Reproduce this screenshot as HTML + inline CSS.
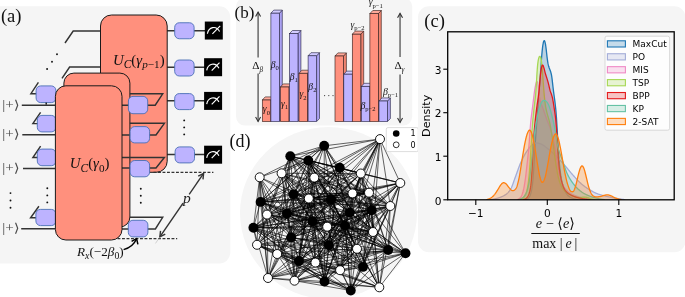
<!DOCTYPE html>
<html><head><meta charset="utf-8"><title>QAOA figure</title>
<style>
html,body{margin:0;padding:0;background:#fff;}
body{width:685px;height:297px;overflow:hidden;}
svg{display:block;}
</style></head><body>
<svg width="685" height="297" viewBox="0 0 685 297">
<rect x="0" y="0" width="685" height="297" fill="#ffffff"/>
<g id="panel-a">
<rect x="-12" y="6.3" width="242.3" height="257.1" rx="11" ry="11" fill="#f5f5f5"/>
<path d="M65.00,43.00 L73.20,31.00 L101.00,31.00" fill="none" stroke="#333333" stroke-width="1.45" />
<path d="M62.00,78.40 L69.60,67.00 L101.00,67.00" fill="none" stroke="#333333" stroke-width="1.45" />
<circle cx="57" cy="54.3" r="0.95" fill="#111"/>
<circle cx="52" cy="61.8" r="0.95" fill="#111"/>
<circle cx="47.1" cy="69.0" r="0.95" fill="#111"/>
<path d="M167.00,30.65 L205.00,30.65" fill="none" stroke="#333333" stroke-width="1.45" />
<path d="M167.00,67.30 L205.00,67.30" fill="none" stroke="#333333" stroke-width="1.45" />
<path d="M167.00,100.80 L205.00,100.80" fill="none" stroke="#333333" stroke-width="1.45" />
<path d="M167.00,154.40 L205.00,154.40" fill="none" stroke="#333333" stroke-width="1.45" />
<rect x="100.50" y="15.00" width="66.70" height="157.30" rx="11" ry="11" fill="#ff907d" stroke="#1a1a1a" stroke-width="1"/>
<rect x="174.70" y="22.75" width="19.40" height="16.00" rx="4.6" ry="4.6" fill="#bdb3ff" stroke="#4a6fb5" stroke-width="0.9"/>
<rect x="204.80" y="21.55" width="18.00" height="18.00" fill="#000"/>
<path d="M207.40,33.75 C208.60,26.95 216.00,24.95 219.60,31.55" fill="none" stroke="#fff" stroke-width="1.15"/>
<path d="M212.40,33.95 L220.20,25.95" fill="none" stroke="#fff" stroke-width="1.15"/>
<rect x="174.70" y="60.00" width="19.40" height="16.00" rx="4.6" ry="4.6" fill="#bdb3ff" stroke="#4a6fb5" stroke-width="0.9"/>
<rect x="204.10" y="58.20" width="18.00" height="18.00" fill="#000"/>
<path d="M206.70,70.40 C207.90,63.60 215.30,61.60 218.90,68.20" fill="none" stroke="#fff" stroke-width="1.15"/>
<path d="M211.70,70.60 L219.50,62.60" fill="none" stroke="#fff" stroke-width="1.15"/>
<rect x="174.70" y="93.60" width="19.40" height="16.00" rx="4.6" ry="4.6" fill="#bdb3ff" stroke="#4a6fb5" stroke-width="0.9"/>
<rect x="204.10" y="91.90" width="18.00" height="18.00" fill="#000"/>
<path d="M206.70,104.10 C207.90,97.30 215.30,95.30 218.90,101.90" fill="none" stroke="#fff" stroke-width="1.15"/>
<path d="M211.70,104.30 L219.50,96.30" fill="none" stroke="#fff" stroke-width="1.15"/>
<rect x="175.10" y="146.90" width="19.40" height="16.00" rx="4.6" ry="4.6" fill="#bdb3ff" stroke="#4a6fb5" stroke-width="0.9"/>
<rect x="204.10" y="145.70" width="18.00" height="18.00" fill="#000"/>
<path d="M206.70,157.90 C207.90,151.10 215.30,149.10 218.90,155.70" fill="none" stroke="#fff" stroke-width="1.15"/>
<path d="M211.70,158.10 L219.50,150.10" fill="none" stroke="#fff" stroke-width="1.15"/>
<circle cx="184.2" cy="120.4" r="0.95" fill="#111"/>
<circle cx="184.2" cy="127.4" r="0.95" fill="#111"/>
<circle cx="184.2" cy="134.4" r="0.95" fill="#111"/>
<path d="M153.50,172.30 L213.40,172.30" fill="none" stroke="#333" stroke-width="1.3" stroke-dasharray="2.9 1.6"/>
<path d="M117.50,238.60 L177.20,238.60" fill="none" stroke="#333" stroke-width="1.3" stroke-dasharray="2.9 1.6"/>
<rect x="63.90" y="73.10" width="66.00" height="153.90" rx="10" ry="10" fill="#ff907d" stroke="#1a1a1a" stroke-width="1"/>
<path d="M129.90,93.80 L162.70,93.80 L155.20,105.20 L121.90,105.20" fill="none" stroke="#333333" stroke-width="1.45" />
<path d="M129.90,123.30 L164.40,123.30 L156.00,135.00 L121.90,135.00" fill="none" stroke="#333333" stroke-width="1.45" />
<path d="M121.90,157.50 L164.40,157.50 L156.00,168.00 L121.90,168.00" fill="none" stroke="#333333" stroke-width="1.45" />
<path d="M129.90,217.30 L162.70,217.30 L155.40,229.00 L121.90,229.00" fill="none" stroke="#333333" stroke-width="1.45" />
<path d="M38.40,82.40 L30.90,93.70 L37.10,93.70" fill="none" stroke="#333333" stroke-width="1.45" />
<path d="M40.60,112.30 L32.90,123.60 L38.30,123.60" fill="none" stroke="#333333" stroke-width="1.45" />
<path d="M40.60,146.10 L32.90,157.50 L38.30,157.50" fill="none" stroke="#333333" stroke-width="1.45" />
<path d="M38.90,206.30 L30.60,217.70 L36.90,217.70" fill="none" stroke="#333333" stroke-width="1.45" />
<rect x="36.10" y="85.90" width="19.80" height="16.70" rx="4.6" ry="4.6" fill="#bdb3ff" stroke="#4a6fb5" stroke-width="0.9"/>
<rect x="37.30" y="115.40" width="18.60" height="16.50" rx="4.6" ry="4.6" fill="#bdb3ff" stroke="#4a6fb5" stroke-width="0.9"/>
<rect x="37.30" y="149.10" width="18.60" height="16.60" rx="4.6" ry="4.6" fill="#bdb3ff" stroke="#4a6fb5" stroke-width="0.9"/>
<rect x="35.90" y="209.40" width="20.00" height="16.20" rx="4.6" ry="4.6" fill="#bdb3ff" stroke="#4a6fb5" stroke-width="0.9"/>
<rect x="55.40" y="85.80" width="66.60" height="154.20" rx="10.5" ry="10.5" fill="#ff907d" stroke="#1a1a1a" stroke-width="1"/>
<rect x="128.40" y="96.40" width="19.30" height="17.30" rx="4.6" ry="4.6" fill="#bdb3ff" stroke="#4a6fb5" stroke-width="0.9"/>
<rect x="130.10" y="126.60" width="19.50" height="16.30" rx="4.6" ry="4.6" fill="#bdb3ff" stroke="#4a6fb5" stroke-width="0.9"/>
<rect x="130.10" y="160.50" width="19.50" height="16.30" rx="4.6" ry="4.6" fill="#bdb3ff" stroke="#4a6fb5" stroke-width="0.9"/>
<rect x="128.30" y="220.30" width="19.60" height="16.60" rx="4.6" ry="4.6" fill="#bdb3ff" stroke="#4a6fb5" stroke-width="0.9"/>
<circle cx="140.8" cy="188.8" r="0.95" fill="#111"/>
<circle cx="140.8" cy="195.8" r="0.95" fill="#111"/>
<circle cx="140.8" cy="202.8" r="0.95" fill="#111"/>
<path d="M21.80,105.20 L55.40,105.20" fill="none" stroke="#333333" stroke-width="1.45" />
<text x="2.2" y="108.80" font-family='"Liberation Serif", "DejaVu Serif", serif' font-size="12.5" fill="#4a4a4a" textLength="17.5" lengthAdjust="spacingAndGlyphs">|+⟩</text>
<path d="M22.30,134.70 L55.40,134.70" fill="none" stroke="#333333" stroke-width="1.45" />
<text x="2.2" y="138.30" font-family='"Liberation Serif", "DejaVu Serif", serif' font-size="12.5" fill="#4a4a4a" textLength="17.5" lengthAdjust="spacingAndGlyphs">|+⟩</text>
<path d="M23.00,168.40 L55.40,168.40" fill="none" stroke="#333333" stroke-width="1.45" />
<text x="2.2" y="172.00" font-family='"Liberation Serif", "DejaVu Serif", serif' font-size="12.5" fill="#4a4a4a" textLength="17.5" lengthAdjust="spacingAndGlyphs">|+⟩</text>
<path d="M21.20,228.80 L55.40,228.80" fill="none" stroke="#333333" stroke-width="1.45" />
<text x="2.2" y="232.40" font-family='"Liberation Serif", "DejaVu Serif", serif' font-size="12.5" fill="#4a4a4a" textLength="17.5" lengthAdjust="spacingAndGlyphs">|+⟩</text>
<rect x="45.5" y="102.6" width="1.4" height="2" fill="#111"/>
<circle cx="47.3" cy="188.2" r="0.95" fill="#111"/>
<circle cx="47.3" cy="195.4" r="0.95" fill="#111"/>
<circle cx="47.3" cy="202.4" r="0.95" fill="#111"/>
<circle cx="10.5" cy="193.1" r="0.95" fill="#111"/>
<circle cx="10.5" cy="200.5" r="0.95" fill="#111"/>
<circle cx="10.5" cy="207.7" r="0.95" fill="#111"/>
<path d="M159.90,236.80 L183.06,203.20" fill="none" stroke="#333" stroke-width="1.4" />
<path d="M189.18,194.32 L203.60,173.40" fill="none" stroke="#333" stroke-width="1.4" />
<path d="M202.98,179.37 L203.60,173.40 L198.24,176.10" fill="none" stroke="#333" stroke-width="1.4" stroke-linejoin="miter"/>
<path d="M160.52,230.83 L159.90,236.80 L165.26,234.10" fill="none" stroke="#333" stroke-width="1.4" stroke-linejoin="miter"/>
<path d="M159.90,236.80 L155.50,243.40" fill="none" stroke="#aaa" stroke-width="0.5" />
<text x="183.0" y="202.6" font-family='"Liberation Serif", "DejaVu Serif", serif' font-style="italic" font-size="15.5" fill="#222">p</text>
<text x="0.9" y="22.3" font-family='"Liberation Serif", "DejaVu Serif", serif' font-size="18.6" fill="#111">(a)</text>
<text x="113.0" y="64.7" font-family='"Liberation Serif", "DejaVu Serif", serif' font-size="14.8" fill="#111"><tspan font-style="italic">U</tspan><tspan font-style="italic" font-size="11.5" dy="3.5">C</tspan><tspan dy="-3.5">(</tspan><tspan font-style="italic">γ</tspan><tspan font-style="italic" font-size="11.2" dy="3.5">p</tspan><tspan font-size="11.2">−1</tspan><tspan dy="-3.5">)</tspan></text>
<text x="69.8" y="168.2" font-family='"Liberation Serif", "DejaVu Serif", serif' font-size="14.8" fill="#111"><tspan font-style="italic">U</tspan><tspan font-style="italic" font-size="11.5" dy="3.5">C</tspan><tspan dy="-3.5">(</tspan><tspan font-style="italic">γ</tspan><tspan font-size="11.2" dy="3.5">0</tspan><tspan dy="-3.5">)</tspan></text>
<text x="77.0" y="256.2" font-family='"Liberation Serif", "DejaVu Serif", serif' font-size="13.2" fill="#111"><tspan font-style="italic">R</tspan><tspan font-style="italic" font-size="9.8" dy="2.6">x</tspan><tspan dy="-2.6">(−2</tspan><tspan font-style="italic">β</tspan><tspan font-size="9.8" dy="2.6">0</tspan><tspan dy="-2.6">)</tspan></text>
<path d="M123.6,249.6 C129.5,248 134,244.5 136.4,239.2" fill="none" stroke="#000" stroke-width="1.5"/>
<path d="M131.6,241.4 L136.6,238.6 L137.9,244.3" fill="none" stroke="#000" stroke-width="1.5"/>
</g>
<g id="panel-b">
<rect x="236" y="-2.5" width="176.2" height="128.1" rx="9" ry="9" fill="#f5f5f5"/>
<path d="M270.80,100.00 L273.70,96.90 L273.70,118.50 L270.80,121.60 Z" fill="#f08570" stroke="#3a2320" stroke-width="0.65" stroke-linejoin="round"/>
<path d="M262.30,100.00 L265.20,96.90 L273.70,96.90 L270.80,100.00 Z" fill="#ffa899" stroke="#3a2320" stroke-width="0.65" stroke-linejoin="round"/>
<rect x="262.30" y="100.00" width="8.5" height="21.60" fill="#ff907d" stroke="#3a2320" stroke-width="0.65"/>
<path d="M279.40,13.20 L282.30,10.10 L282.30,118.50 L279.40,121.60 Z" fill="#aba1f2" stroke="#2c2a4a" stroke-width="0.65" stroke-linejoin="round"/>
<path d="M270.90,13.20 L273.80,10.10 L282.30,10.10 L279.40,13.20 Z" fill="#d2cbff" stroke="#2c2a4a" stroke-width="0.65" stroke-linejoin="round"/>
<rect x="270.90" y="13.20" width="8.5" height="108.40" fill="#bdb3ff" stroke="#2c2a4a" stroke-width="0.65"/>
<path d="M288.90,87.00 L291.80,83.90 L291.80,118.50 L288.90,121.60 Z" fill="#f08570" stroke="#3a2320" stroke-width="0.65" stroke-linejoin="round"/>
<path d="M280.40,87.00 L283.30,83.90 L291.80,83.90 L288.90,87.00 Z" fill="#ffa899" stroke="#3a2320" stroke-width="0.65" stroke-linejoin="round"/>
<rect x="280.40" y="87.00" width="8.5" height="34.60" fill="#ff907d" stroke="#3a2320" stroke-width="0.65"/>
<path d="M298.00,33.60 L300.90,30.50 L300.90,118.50 L298.00,121.60 Z" fill="#aba1f2" stroke="#2c2a4a" stroke-width="0.65" stroke-linejoin="round"/>
<path d="M289.50,33.60 L292.40,30.50 L300.90,30.50 L298.00,33.60 Z" fill="#d2cbff" stroke="#2c2a4a" stroke-width="0.65" stroke-linejoin="round"/>
<rect x="289.50" y="33.60" width="8.5" height="88.00" fill="#bdb3ff" stroke="#2c2a4a" stroke-width="0.65"/>
<path d="M307.50,73.30 L310.40,70.20 L310.40,118.50 L307.50,121.60 Z" fill="#f08570" stroke="#3a2320" stroke-width="0.65" stroke-linejoin="round"/>
<path d="M299.00,73.30 L301.90,70.20 L310.40,70.20 L307.50,73.30 Z" fill="#ffa899" stroke="#3a2320" stroke-width="0.65" stroke-linejoin="round"/>
<rect x="299.00" y="73.30" width="8.5" height="48.30" fill="#ff907d" stroke="#3a2320" stroke-width="0.65"/>
<path d="M316.60,55.80 L319.50,52.70 L319.50,118.50 L316.60,121.60 Z" fill="#aba1f2" stroke="#2c2a4a" stroke-width="0.65" stroke-linejoin="round"/>
<path d="M308.10,55.80 L311.00,52.70 L319.50,52.70 L316.60,55.80 Z" fill="#d2cbff" stroke="#2c2a4a" stroke-width="0.65" stroke-linejoin="round"/>
<rect x="308.10" y="55.80" width="8.5" height="65.80" fill="#bdb3ff" stroke="#2c2a4a" stroke-width="0.65"/>
<path d="M343.50,56.00 L346.40,52.90 L346.40,118.50 L343.50,121.60 Z" fill="#f08570" stroke="#3a2320" stroke-width="0.65" stroke-linejoin="round"/>
<path d="M335.00,56.00 L337.90,52.90 L346.40,52.90 L343.50,56.00 Z" fill="#ffa899" stroke="#3a2320" stroke-width="0.65" stroke-linejoin="round"/>
<rect x="335.00" y="56.00" width="8.5" height="65.60" fill="#ff907d" stroke="#3a2320" stroke-width="0.65"/>
<path d="M352.30,74.20 L355.20,71.10 L355.20,118.50 L352.30,121.60 Z" fill="#aba1f2" stroke="#2c2a4a" stroke-width="0.65" stroke-linejoin="round"/>
<path d="M343.80,74.20 L346.70,71.10 L355.20,71.10 L352.30,74.20 Z" fill="#d2cbff" stroke="#2c2a4a" stroke-width="0.65" stroke-linejoin="round"/>
<rect x="343.80" y="74.20" width="8.5" height="47.40" fill="#bdb3ff" stroke="#2c2a4a" stroke-width="0.65"/>
<path d="M360.80,34.20 L363.70,31.10 L363.70,118.50 L360.80,121.60 Z" fill="#f08570" stroke="#3a2320" stroke-width="0.65" stroke-linejoin="round"/>
<path d="M352.30,34.20 L355.20,31.10 L363.70,31.10 L360.80,34.20 Z" fill="#ffa899" stroke="#3a2320" stroke-width="0.65" stroke-linejoin="round"/>
<rect x="352.30" y="34.20" width="8.5" height="87.40" fill="#ff907d" stroke="#3a2320" stroke-width="0.65"/>
<path d="M369.80,86.40 L372.70,83.30 L372.70,118.50 L369.80,121.60 Z" fill="#aba1f2" stroke="#2c2a4a" stroke-width="0.65" stroke-linejoin="round"/>
<path d="M361.30,86.40 L364.20,83.30 L372.70,83.30 L369.80,86.40 Z" fill="#d2cbff" stroke="#2c2a4a" stroke-width="0.65" stroke-linejoin="round"/>
<rect x="361.30" y="86.40" width="8.5" height="35.20" fill="#bdb3ff" stroke="#2c2a4a" stroke-width="0.65"/>
<path d="M378.40,13.60 L381.30,10.50 L381.30,118.50 L378.40,121.60 Z" fill="#f08570" stroke="#3a2320" stroke-width="0.65" stroke-linejoin="round"/>
<path d="M369.90,13.60 L372.80,10.50 L381.30,10.50 L378.40,13.60 Z" fill="#ffa899" stroke="#3a2320" stroke-width="0.65" stroke-linejoin="round"/>
<rect x="369.90" y="13.60" width="8.5" height="108.00" fill="#ff907d" stroke="#3a2320" stroke-width="0.65"/>
<path d="M387.50,101.00 L390.40,97.90 L390.40,118.50 L387.50,121.60 Z" fill="#aba1f2" stroke="#2c2a4a" stroke-width="0.65" stroke-linejoin="round"/>
<path d="M379.00,101.00 L381.90,97.90 L390.40,97.90 L387.50,101.00 Z" fill="#d2cbff" stroke="#2c2a4a" stroke-width="0.65" stroke-linejoin="round"/>
<rect x="379.00" y="101.00" width="8.5" height="20.60" fill="#bdb3ff" stroke="#2c2a4a" stroke-width="0.65"/>
<path d="M258.1,12.2 L258.1,57.5 M258.1,73.5 L258.1,121.4" stroke="#5a5a5a" stroke-width="1.35" fill="none"/>
<path d="M255.60000000000002,16.6 L258.1,12.2 L260.6,16.6" stroke="#333" stroke-width="1.1" fill="none"/>
<path d="M255.60000000000002,117.0 L258.1,121.4 L260.6,117.0" stroke="#333" stroke-width="1.1" fill="none"/>
<path d="M400.05,13.4 L400.05,57.0 M400.05,74.5 L400.05,122.4" stroke="#5a5a5a" stroke-width="1.35" fill="none"/>
<path d="M397.55,17.8 L400.05,13.4 L402.55,17.8" stroke="#333" stroke-width="1.1" fill="none"/>
<path d="M397.55,118.0 L400.05,122.4 L402.55,118.0" stroke="#333" stroke-width="1.1" fill="none"/>
<text x="266.4" y="112.4" text-anchor="middle" font-family='"Liberation Serif", "DejaVu Serif", serif' font-size="9.6" fill="#111"><tspan font-style="italic">γ</tspan><tspan font-size="6.6" dy="2.2">0</tspan></text>
<text x="274.8" y="67.8" text-anchor="middle" font-family='"Liberation Serif", "DejaVu Serif", serif' font-size="9.6" fill="#111"><tspan font-style="italic">β</tspan><tspan font-size="6.6" dy="2.2">0</tspan></text>
<text x="284.5" y="106.6" text-anchor="middle" font-family='"Liberation Serif", "DejaVu Serif", serif' font-size="9.6" fill="#111"><tspan font-style="italic">γ</tspan><tspan font-size="6.6" dy="2.2">1</tspan></text>
<text x="293.8" y="79.8" text-anchor="middle" font-family='"Liberation Serif", "DejaVu Serif", serif' font-size="9.6" fill="#111"><tspan font-style="italic">β</tspan><tspan font-size="6.6" dy="2.2">1</tspan></text>
<text x="303.0" y="97.4" text-anchor="middle" font-family='"Liberation Serif", "DejaVu Serif", serif' font-size="9.6" fill="#111"><tspan font-style="italic">γ</tspan><tspan font-size="6.6" dy="2.2">2</tspan></text>
<text x="312.4" y="90.2" text-anchor="middle" font-family='"Liberation Serif", "DejaVu Serif", serif' font-size="9.6" fill="#111"><tspan font-style="italic">β</tspan><tspan font-size="6.6" dy="2.2">2</tspan></text>
<text x="375.8" y="5.4" text-anchor="middle" font-family='"Liberation Serif", "DejaVu Serif", serif' font-size="9.6" fill="#111"><tspan font-style="italic">γ</tspan><tspan font-size="6.6" dy="2.2">p−1</tspan></text>
<text x="357.6" y="27.8" text-anchor="middle" font-family='"Liberation Serif", "DejaVu Serif", serif' font-size="9.6" fill="#111"><tspan font-style="italic">γ</tspan><tspan font-size="6.6" dy="2.2">p−2</tspan></text>
<text x="390.6" y="94.6" text-anchor="middle" font-family='"Liberation Serif", "DejaVu Serif", serif' font-size="9.8" fill="#111"><tspan font-style="italic">β</tspan><tspan font-size="6.5" dy="2.2">p−1</tspan></text>
<text x="368.0" y="108.6" text-anchor="middle" font-family='"Liberation Serif", "DejaVu Serif", serif' font-size="9.8" fill="#111"><tspan font-style="italic">β</tspan><tspan font-size="6.5" dy="2.2">p−2</tspan></text>
<text x="252.2" y="69.3" font-family='"Liberation Serif", "DejaVu Serif", serif' font-size="11.2" fill="#111">Δ<tspan font-style="italic" font-size="7.2" dy="2.6">β</tspan></text>
<text x="394.4" y="68.9" font-family='"Liberation Serif", "DejaVu Serif", serif' font-size="11.2" fill="#111">Δ<tspan font-style="italic" font-size="7.2" dy="2.6">γ</tspan></text>
<circle cx="324.6" cy="95.6" r="0.6" fill="#333"/>
<circle cx="328.8" cy="95.6" r="0.6" fill="#333"/>
<circle cx="333.0" cy="95.6" r="0.6" fill="#333"/>
<text x="234.5" y="18.2" font-family='"Liberation Serif", "DejaVu Serif", serif' font-size="17" fill="#111">(b)</text>
</g>
<g id="panel-d">
<ellipse cx="328.5" cy="213" rx="88.5" ry="86" fill="#f5f5f5"/>
<path d="M380.0,139.1L324.2,145.8 M380.0,139.1L290.3,156.2 M380.0,139.1L339.8,167.8 M380.0,139.1L314.3,177.6 M380.0,139.1L360.8,173.5 M380.0,139.1L400.3,183.0 M380.0,139.1L308.8,198.5 M380.0,139.1L331.0,199.2 M380.0,139.1L352.5,193.4 M380.0,139.1L260.6,201.9 M380.0,139.1L349.8,212.6 M380.0,139.1L390.3,206.0 M380.0,139.1L373.0,232.0 M380.0,139.1L291.2,237.5 M380.0,139.1L328.8,245.3 M380.0,139.1L315.4,262.6 M380.0,139.1L340.1,270.2 M380.0,139.1L363.0,266.9 M324.2,145.8L290.3,156.2 M324.2,145.8L308.3,160.4 M324.2,145.8L339.8,167.8 M324.2,145.8L259.7,177.3 M324.2,145.8L281.6,173.3 M324.2,145.8L314.3,177.6 M324.2,145.8L293.5,194.3 M324.2,145.8L331.0,199.2 M324.2,145.8L352.5,193.4 M324.2,145.8L260.6,201.9 M324.2,145.8L287.0,213.4 M324.2,145.8L349.8,212.6 M324.2,145.8L388.2,250.0 M324.2,145.8L324.5,281.5 M324.2,145.8L379.3,287.3 M290.3,156.2L308.3,160.4 M290.3,156.2L339.8,167.8 M290.3,156.2L281.6,173.3 M290.3,156.2L314.3,177.6 M290.3,156.2L360.8,173.5 M290.3,156.2L293.5,194.3 M290.3,156.2L308.8,198.5 M290.3,156.2L331.0,199.2 M290.3,156.2L267.0,214.6 M290.3,156.2L287.0,213.4 M290.3,156.2L312.5,221.5 M290.3,156.2L345.0,225.6 M290.3,156.2L349.8,212.6 M290.3,156.2L371.8,210.2 M290.3,156.2L390.3,206.0 M290.3,156.2L257.0,244.8 M290.3,156.2L277.2,254.0 M290.3,156.2L268.0,278.0 M308.3,160.4L339.8,167.8 M308.3,160.4L259.7,177.3 M308.3,160.4L281.6,173.3 M308.3,160.4L314.3,177.6 M308.3,160.4L360.8,173.5 M308.3,160.4L400.3,183.0 M308.3,160.4L293.5,194.3 M308.3,160.4L308.8,198.5 M308.3,160.4L331.0,199.2 M308.3,160.4L352.5,193.4 M308.3,160.4L369.0,192.7 M308.3,160.4L260.6,201.9 M308.3,160.4L267.0,214.6 M308.3,160.4L287.0,213.4 M308.3,160.4L312.5,221.5 M308.3,160.4L345.0,225.6 M308.3,160.4L349.8,212.6 M308.3,160.4L371.8,210.2 M308.3,160.4L390.3,206.0 M308.3,160.4L373.0,232.0 M308.3,160.4L357.0,248.8 M308.3,160.4L388.2,250.0 M308.3,160.4L298.9,261.0 M308.3,160.4L340.1,270.2 M308.3,160.4L363.0,266.9 M308.3,160.4L324.5,281.5 M308.3,160.4L379.3,287.3 M339.8,167.8L360.8,173.5 M339.8,167.8L400.3,183.0 M339.8,167.8L293.5,194.3 M339.8,167.8L308.8,198.5 M339.8,167.8L352.5,193.4 M339.8,167.8L260.6,201.9 M339.8,167.8L267.0,214.6 M339.8,167.8L371.8,210.2 M339.8,167.8L390.3,206.0 M339.8,167.8L373.0,232.0 M339.8,167.8L291.2,237.5 M339.8,167.8L257.0,244.8 M339.8,167.8L277.2,254.0 M339.8,167.8L328.8,245.3 M339.8,167.8L294.5,280.7 M339.8,167.8L324.5,281.5 M339.8,167.8L350.8,290.5 M259.7,177.3L308.8,198.5 M259.7,177.3L260.6,201.9 M259.7,177.3L267.0,214.6 M259.7,177.3L287.0,213.4 M259.7,177.3L253.4,227.7 M259.7,177.3L291.2,237.5 M259.7,177.3L257.0,244.8 M259.7,177.3L277.2,254.0 M259.7,177.3L388.2,250.0 M259.7,177.3L268.0,278.0 M259.7,177.3L294.5,280.7 M281.6,173.3L360.8,173.5 M281.6,173.3L308.8,198.5 M281.6,173.3L331.0,199.2 M281.6,173.3L352.5,193.4 M281.6,173.3L369.0,192.7 M281.6,173.3L260.6,201.9 M281.6,173.3L267.0,214.6 M281.6,173.3L287.0,213.4 M281.6,173.3L312.5,221.5 M281.6,173.3L327.2,226.7 M281.6,173.3L345.0,225.6 M281.6,173.3L291.2,237.5 M281.6,173.3L328.8,245.3 M281.6,173.3L388.2,250.0 M281.6,173.3L405.5,253.2 M281.6,173.3L315.4,262.6 M314.3,177.6L360.8,173.5 M314.3,177.6L293.5,194.3 M314.3,177.6L308.8,198.5 M314.3,177.6L331.0,199.2 M314.3,177.6L352.5,193.4 M314.3,177.6L369.0,192.7 M314.3,177.6L287.0,213.4 M314.3,177.6L312.5,221.5 M314.3,177.6L327.2,226.7 M314.3,177.6L349.8,212.6 M314.3,177.6L371.8,210.2 M314.3,177.6L328.8,245.3 M314.3,177.6L298.9,261.0 M314.3,177.6L315.4,262.6 M314.3,177.6L363.0,266.9 M314.3,177.6L268.0,278.0 M314.3,177.6L294.5,280.7 M360.8,173.5L400.3,183.0 M360.8,173.5L331.0,199.2 M360.8,173.5L260.6,201.9 M360.8,173.5L287.0,213.4 M360.8,173.5L312.5,221.5 M360.8,173.5L345.0,225.6 M360.8,173.5L349.8,212.6 M360.8,173.5L371.8,210.2 M360.8,173.5L390.3,206.0 M360.8,173.5L373.0,232.0 M360.8,173.5L291.2,237.5 M360.8,173.5L277.2,254.0 M360.8,173.5L357.0,248.8 M360.8,173.5L388.2,250.0 M360.8,173.5L405.5,253.2 M360.8,173.5L340.1,270.2 M360.8,173.5L324.5,281.5 M360.8,173.5L379.3,287.3 M400.3,183.0L308.8,198.5 M400.3,183.0L331.0,199.2 M400.3,183.0L352.5,193.4 M400.3,183.0L287.0,213.4 M400.3,183.0L345.0,225.6 M400.3,183.0L349.8,212.6 M400.3,183.0L371.8,210.2 M400.3,183.0L390.3,206.0 M400.3,183.0L373.0,232.0 M400.3,183.0L328.8,245.3 M400.3,183.0L388.2,250.0 M400.3,183.0L294.5,280.7 M400.3,183.0L350.8,290.5 M400.3,183.0L379.3,287.3 M293.5,194.3L308.8,198.5 M293.5,194.3L331.0,199.2 M293.5,194.3L352.5,193.4 M293.5,194.3L369.0,192.7 M293.5,194.3L260.6,201.9 M293.5,194.3L287.0,213.4 M293.5,194.3L312.5,221.5 M293.5,194.3L253.4,227.7 M293.5,194.3L327.2,226.7 M293.5,194.3L345.0,225.6 M293.5,194.3L349.8,212.6 M293.5,194.3L371.8,210.2 M293.5,194.3L291.2,237.5 M293.5,194.3L257.0,244.8 M293.5,194.3L328.8,245.3 M293.5,194.3L315.4,262.6 M293.5,194.3L294.5,280.7 M308.8,198.5L331.0,199.2 M308.8,198.5L352.5,193.4 M308.8,198.5L369.0,192.7 M308.8,198.5L260.6,201.9 M308.8,198.5L267.0,214.6 M308.8,198.5L287.0,213.4 M308.8,198.5L312.5,221.5 M308.8,198.5L253.4,227.7 M308.8,198.5L327.2,226.7 M308.8,198.5L390.3,206.0 M308.8,198.5L373.0,232.0 M308.8,198.5L291.2,237.5 M308.8,198.5L257.0,244.8 M308.8,198.5L277.2,254.0 M308.8,198.5L328.8,245.3 M308.8,198.5L357.0,248.8 M308.8,198.5L298.9,261.0 M308.8,198.5L315.4,262.6 M308.8,198.5L363.0,266.9 M308.8,198.5L268.0,278.0 M308.8,198.5L294.5,280.7 M308.8,198.5L324.5,281.5 M331.0,199.2L352.5,193.4 M331.0,199.2L369.0,192.7 M331.0,199.2L260.6,201.9 M331.0,199.2L267.0,214.6 M331.0,199.2L287.0,213.4 M331.0,199.2L312.5,221.5 M331.0,199.2L253.4,227.7 M331.0,199.2L327.2,226.7 M331.0,199.2L345.0,225.6 M331.0,199.2L349.8,212.6 M331.0,199.2L371.8,210.2 M331.0,199.2L390.3,206.0 M331.0,199.2L328.8,245.3 M331.0,199.2L357.0,248.8 M331.0,199.2L405.5,253.2 M331.0,199.2L340.1,270.2 M331.0,199.2L379.3,287.3 M352.5,193.4L369.0,192.7 M352.5,193.4L345.0,225.6 M352.5,193.4L349.8,212.6 M352.5,193.4L371.8,210.2 M352.5,193.4L390.3,206.0 M352.5,193.4L373.0,232.0 M352.5,193.4L291.2,237.5 M352.5,193.4L257.0,244.8 M352.5,193.4L328.8,245.3 M352.5,193.4L315.4,262.6 M352.5,193.4L350.8,290.5 M369.0,192.7L260.6,201.9 M369.0,192.7L267.0,214.6 M369.0,192.7L287.0,213.4 M369.0,192.7L253.4,227.7 M369.0,192.7L349.8,212.6 M369.0,192.7L371.8,210.2 M369.0,192.7L390.3,206.0 M369.0,192.7L373.0,232.0 M369.0,192.7L328.8,245.3 M369.0,192.7L357.0,248.8 M369.0,192.7L388.2,250.0 M369.0,192.7L298.9,261.0 M369.0,192.7L340.1,270.2 M369.0,192.7L363.0,266.9 M369.0,192.7L379.3,287.3 M260.6,201.9L267.0,214.6 M260.6,201.9L287.0,213.4 M260.6,201.9L312.5,221.5 M260.6,201.9L253.4,227.7 M260.6,201.9L345.0,225.6 M260.6,201.9L390.3,206.0 M260.6,201.9L277.2,254.0 M260.6,201.9L328.8,245.3 M260.6,201.9L357.0,248.8 M260.6,201.9L405.5,253.2 M260.6,201.9L315.4,262.6 M260.6,201.9L268.0,278.0 M267.0,214.6L287.0,213.4 M267.0,214.6L253.4,227.7 M267.0,214.6L327.2,226.7 M267.0,214.6L345.0,225.6 M267.0,214.6L373.0,232.0 M267.0,214.6L291.2,237.5 M267.0,214.6L257.0,244.8 M267.0,214.6L328.8,245.3 M267.0,214.6L405.5,253.2 M267.0,214.6L363.0,266.9 M267.0,214.6L268.0,278.0 M267.0,214.6L294.5,280.7 M287.0,213.4L312.5,221.5 M287.0,213.4L253.4,227.7 M287.0,213.4L327.2,226.7 M287.0,213.4L345.0,225.6 M287.0,213.4L371.8,210.2 M287.0,213.4L373.0,232.0 M287.0,213.4L291.2,237.5 M287.0,213.4L257.0,244.8 M287.0,213.4L277.2,254.0 M287.0,213.4L328.8,245.3 M287.0,213.4L298.9,261.0 M287.0,213.4L294.5,280.7 M312.5,221.5L327.2,226.7 M312.5,221.5L345.0,225.6 M312.5,221.5L371.8,210.2 M312.5,221.5L390.3,206.0 M312.5,221.5L373.0,232.0 M312.5,221.5L291.2,237.5 M312.5,221.5L328.8,245.3 M312.5,221.5L388.2,250.0 M312.5,221.5L298.9,261.0 M312.5,221.5L315.4,262.6 M312.5,221.5L340.1,270.2 M312.5,221.5L363.0,266.9 M312.5,221.5L294.5,280.7 M312.5,221.5L324.5,281.5 M253.4,227.7L327.2,226.7 M253.4,227.7L345.0,225.6 M253.4,227.7L349.8,212.6 M253.4,227.7L371.8,210.2 M253.4,227.7L373.0,232.0 M253.4,227.7L291.2,237.5 M253.4,227.7L257.0,244.8 M253.4,227.7L277.2,254.0 M253.4,227.7L298.9,261.0 M253.4,227.7L315.4,262.6 M253.4,227.7L340.1,270.2 M253.4,227.7L363.0,266.9 M253.4,227.7L268.0,278.0 M253.4,227.7L324.5,281.5 M327.2,226.7L349.8,212.6 M327.2,226.7L371.8,210.2 M327.2,226.7L390.3,206.0 M327.2,226.7L373.0,232.0 M327.2,226.7L291.2,237.5 M327.2,226.7L357.0,248.8 M327.2,226.7L388.2,250.0 M327.2,226.7L315.4,262.6 M327.2,226.7L340.1,270.2 M327.2,226.7L363.0,266.9 M327.2,226.7L268.0,278.0 M345.0,225.6L349.8,212.6 M345.0,225.6L371.8,210.2 M345.0,225.6L390.3,206.0 M345.0,225.6L373.0,232.0 M345.0,225.6L328.8,245.3 M345.0,225.6L357.0,248.8 M345.0,225.6L388.2,250.0 M345.0,225.6L405.5,253.2 M345.0,225.6L298.9,261.0 M345.0,225.6L340.1,270.2 M345.0,225.6L294.5,280.7 M345.0,225.6L324.5,281.5 M345.0,225.6L350.8,290.5 M349.8,212.6L371.8,210.2 M349.8,212.6L390.3,206.0 M349.8,212.6L373.0,232.0 M349.8,212.6L291.2,237.5 M349.8,212.6L277.2,254.0 M349.8,212.6L328.8,245.3 M349.8,212.6L357.0,248.8 M349.8,212.6L388.2,250.0 M349.8,212.6L405.5,253.2 M349.8,212.6L298.9,261.0 M349.8,212.6L294.5,280.7 M349.8,212.6L324.5,281.5 M371.8,210.2L390.3,206.0 M371.8,210.2L373.0,232.0 M371.8,210.2L328.8,245.3 M371.8,210.2L357.0,248.8 M371.8,210.2L405.5,253.2 M371.8,210.2L298.9,261.0 M371.8,210.2L315.4,262.6 M371.8,210.2L340.1,270.2 M371.8,210.2L268.0,278.0 M371.8,210.2L379.3,287.3 M390.3,206.0L291.2,237.5 M390.3,206.0L328.8,245.3 M390.3,206.0L388.2,250.0 M390.3,206.0L315.4,262.6 M390.3,206.0L340.1,270.2 M390.3,206.0L363.0,266.9 M390.3,206.0L324.5,281.5 M390.3,206.0L350.8,290.5 M390.3,206.0L379.3,287.3 M373.0,232.0L257.0,244.8 M373.0,232.0L277.2,254.0 M373.0,232.0L328.8,245.3 M373.0,232.0L357.0,248.8 M373.0,232.0L363.0,266.9 M373.0,232.0L268.0,278.0 M373.0,232.0L350.8,290.5 M291.2,237.5L257.0,244.8 M291.2,237.5L277.2,254.0 M291.2,237.5L328.8,245.3 M291.2,237.5L357.0,248.8 M291.2,237.5L388.2,250.0 M291.2,237.5L298.9,261.0 M291.2,237.5L340.1,270.2 M291.2,237.5L268.0,278.0 M291.2,237.5L294.5,280.7 M257.0,244.8L277.2,254.0 M257.0,244.8L328.8,245.3 M257.0,244.8L405.5,253.2 M257.0,244.8L298.9,261.0 M257.0,244.8L340.1,270.2 M257.0,244.8L324.5,281.5 M257.0,244.8L350.8,290.5 M257.0,244.8L379.3,287.3 M277.2,254.0L357.0,248.8 M277.2,254.0L298.9,261.0 M277.2,254.0L315.4,262.6 M277.2,254.0L268.0,278.0 M277.2,254.0L294.5,280.7 M277.2,254.0L324.5,281.5 M277.2,254.0L350.8,290.5 M277.2,254.0L379.3,287.3 M328.8,245.3L357.0,248.8 M328.8,245.3L315.4,262.6 M328.8,245.3L340.1,270.2 M328.8,245.3L363.0,266.9 M328.8,245.3L324.5,281.5 M328.8,245.3L350.8,290.5 M328.8,245.3L379.3,287.3 M357.0,248.8L388.2,250.0 M357.0,248.8L298.9,261.0 M357.0,248.8L340.1,270.2 M357.0,248.8L363.0,266.9 M357.0,248.8L324.5,281.5 M357.0,248.8L350.8,290.5 M357.0,248.8L379.3,287.3 M388.2,250.0L405.5,253.2 M388.2,250.0L298.9,261.0 M388.2,250.0L315.4,262.6 M388.2,250.0L363.0,266.9 M388.2,250.0L268.0,278.0 M388.2,250.0L294.5,280.7 M388.2,250.0L350.8,290.5 M405.5,253.2L340.1,270.2 M405.5,253.2L363.0,266.9 M405.5,253.2L268.0,278.0 M405.5,253.2L350.8,290.5 M405.5,253.2L379.3,287.3 M298.9,261.0L315.4,262.6 M298.9,261.0L340.1,270.2 M298.9,261.0L324.5,281.5 M298.9,261.0L350.8,290.5 M315.4,262.6L340.1,270.2 M315.4,262.6L363.0,266.9 M315.4,262.6L268.0,278.0 M315.4,262.6L294.5,280.7 M315.4,262.6L324.5,281.5 M315.4,262.6L350.8,290.5 M315.4,262.6L379.3,287.3 M340.1,270.2L363.0,266.9 M340.1,270.2L294.5,280.7 M340.1,270.2L324.5,281.5 M340.1,270.2L350.8,290.5 M363.0,266.9L294.5,280.7 M363.0,266.9L350.8,290.5 M268.0,278.0L294.5,280.7 M268.0,278.0L324.5,281.5 M294.5,280.7L350.8,290.5 M294.5,280.7L379.3,287.3 M324.5,281.5L350.8,290.5 M324.5,281.5L379.3,287.3" stroke="#000" stroke-width="0.66" stroke-opacity="0.92" fill="none"/>
<circle cx="380" cy="139.1" r="4.5" fill="#fff" stroke="#000" stroke-width="0.9"/>
<circle cx="324.2" cy="145.8" r="4.95" fill="#000"/>
<circle cx="290.3" cy="156.2" r="4.95" fill="#000"/>
<circle cx="308.3" cy="160.4" r="4.95" fill="#000"/>
<circle cx="339.8" cy="167.8" r="4.95" fill="#000"/>
<circle cx="259.7" cy="177.3" r="4.5" fill="#fff" stroke="#000" stroke-width="0.9"/>
<circle cx="281.6" cy="173.3" r="4.5" fill="#fff" stroke="#000" stroke-width="0.9"/>
<circle cx="314.3" cy="177.6" r="4.5" fill="#fff" stroke="#000" stroke-width="0.9"/>
<circle cx="360.8" cy="173.5" r="4.5" fill="#fff" stroke="#000" stroke-width="0.9"/>
<circle cx="400.3" cy="183" r="4.5" fill="#fff" stroke="#000" stroke-width="0.9"/>
<circle cx="293.5" cy="194.3" r="4.95" fill="#000"/>
<circle cx="308.8" cy="198.5" r="4.5" fill="#fff" stroke="#000" stroke-width="0.9"/>
<circle cx="331" cy="199.2" r="4.95" fill="#000"/>
<circle cx="352.5" cy="193.4" r="4.5" fill="#fff" stroke="#000" stroke-width="0.9"/>
<circle cx="369" cy="192.7" r="4.5" fill="#fff" stroke="#000" stroke-width="0.9"/>
<circle cx="260.6" cy="201.9" r="4.95" fill="#000"/>
<circle cx="267" cy="214.6" r="4.5" fill="#fff" stroke="#000" stroke-width="0.9"/>
<circle cx="287" cy="213.4" r="4.95" fill="#000"/>
<circle cx="312.5" cy="221.5" r="4.95" fill="#000"/>
<circle cx="253.4" cy="227.7" r="4.95" fill="#000"/>
<circle cx="327.2" cy="226.7" r="4.5" fill="#fff" stroke="#000" stroke-width="0.9"/>
<circle cx="345" cy="225.6" r="4.95" fill="#000"/>
<circle cx="349.8" cy="212.6" r="4.95" fill="#000"/>
<circle cx="371.8" cy="210.2" r="4.95" fill="#000"/>
<circle cx="390.3" cy="206" r="4.5" fill="#fff" stroke="#000" stroke-width="0.9"/>
<circle cx="373" cy="232" r="4.5" fill="#fff" stroke="#000" stroke-width="0.9"/>
<circle cx="291.2" cy="237.5" r="4.95" fill="#000"/>
<circle cx="257" cy="244.8" r="4.5" fill="#fff" stroke="#000" stroke-width="0.9"/>
<circle cx="277.2" cy="254" r="4.5" fill="#fff" stroke="#000" stroke-width="0.9"/>
<circle cx="328.8" cy="245.3" r="4.95" fill="#000"/>
<circle cx="357" cy="248.8" r="4.5" fill="#fff" stroke="#000" stroke-width="0.9"/>
<circle cx="388.2" cy="250" r="4.95" fill="#000"/>
<circle cx="405.5" cy="253.2" r="4.95" fill="#000"/>
<circle cx="298.9" cy="261" r="4.95" fill="#000"/>
<circle cx="315.4" cy="262.6" r="4.5" fill="#fff" stroke="#000" stroke-width="0.9"/>
<circle cx="340.1" cy="270.2" r="4.5" fill="#fff" stroke="#000" stroke-width="0.9"/>
<circle cx="363" cy="266.9" r="4.95" fill="#000"/>
<circle cx="268" cy="278" r="4.5" fill="#fff" stroke="#000" stroke-width="0.9"/>
<circle cx="294.5" cy="280.7" r="4.5" fill="#fff" stroke="#000" stroke-width="0.9"/>
<circle cx="324.5" cy="281.5" r="4.95" fill="#000"/>
<circle cx="350.8" cy="290.5" r="4.95" fill="#000"/>
<circle cx="379.3" cy="287.3" r="4.5" fill="#fff" stroke="#000" stroke-width="0.9"/>
<rect x="386.3" y="127.6" width="32" height="24" rx="1.6" ry="1.6" fill="#fff" fill-opacity="0.85" stroke="#cfcfcf" stroke-width="0.7"/>
<circle cx="396.2" cy="133.5" r="3.3" fill="#000"/>
<circle cx="396.2" cy="144.8" r="2.9" fill="#fff" stroke="#000" stroke-width="0.8"/>
<text x="410.6" y="136.2" font-family='"DejaVu Sans", "Liberation Sans", sans-serif' font-size="8" fill="#000">1</text>
<text x="410.6" y="147.6" font-family='"DejaVu Sans", "Liberation Sans", sans-serif' font-size="8" fill="#000">0</text>
<text x="229.6" y="147.0" font-family='"Liberation Serif", "DejaVu Serif", serif' font-size="18" fill="#111">(d)</text>
</g>
<g id="panel-c">
<rect x="418" y="6.3" width="267.4" height="245.9" rx="11" ry="11" fill="#f5f5f5"/>
<clipPath id="cc"><rect x="447.7" y="31.8" width="226.50000000000006" height="168.0"/></clipPath>
<g clip-path="url(#cc)">
<path d="M525.00,199.69 L525.25,199.64 L525.50,199.59 L525.75,199.52 L526.00,199.45 L526.25,199.37 L526.50,199.27 L526.75,199.18 L527.00,199.07 L527.25,198.96 L527.50,198.83 L527.75,198.69 L528.00,198.52 L528.25,198.32 L528.50,198.08 L528.75,197.79 L529.00,197.45 L529.25,197.05 L529.50,196.60 L529.75,196.10 L530.00,195.55 L530.25,194.94 L530.50,194.27 L530.75,193.52 L531.00,192.66 L531.25,191.67 L531.50,190.51 L531.75,189.16 L532.00,187.61 L532.25,185.83 L532.50,183.81 L532.75,181.50 L533.00,178.82 L533.25,175.73 L533.50,172.21 L533.75,168.31 L534.00,164.14 L534.25,159.85 L534.50,155.58 L534.75,151.42 L535.00,147.42 L535.25,143.60 L535.50,139.91 L535.75,136.33 L536.00,132.83 L536.25,129.38 L536.50,125.96 L536.75,122.58 L537.00,119.21 L537.25,115.87 L537.50,112.55 L537.75,109.25 L538.00,105.97 L538.25,102.71 L538.50,99.45 L538.75,96.19 L539.00,92.90 L539.25,89.57 L539.50,86.20 L539.75,82.77 L540.00,79.29 L540.25,75.78 L540.50,72.25 L540.75,68.72 L541.00,65.23 L541.25,61.83 L541.50,58.55 L541.75,55.46 L542.00,52.62 L542.25,50.07 L542.50,47.85 L542.75,45.95 L543.00,44.34 L543.25,43.02 L543.50,41.96 L543.75,41.19 L544.00,40.73 L544.25,40.59 L544.50,40.79 L544.75,41.30 L545.00,42.09 L545.25,43.15 L545.50,44.46 L545.75,46.03 L546.00,47.86 L546.25,49.92 L546.50,52.14 L546.75,54.39 L547.00,56.56 L547.25,58.59 L547.50,60.42 L547.75,62.05 L548.00,63.47 L548.25,64.68 L548.50,65.71 L548.75,66.58 L549.00,67.33 L549.25,68.00 L549.50,68.64 L549.75,69.26 L550.00,69.90 L550.25,70.57 L550.50,71.29 L550.75,72.07 L551.00,72.96 L551.25,73.99 L551.50,75.23 L551.75,76.71 L552.00,78.46 L552.25,80.45 L552.50,82.61 L552.75,84.83 L553.00,87.03 L553.25,89.15 L553.50,91.16 L553.75,93.07 L554.00,94.91 L554.25,96.73 L554.50,98.57 L554.75,100.44 L555.00,102.40 L555.25,104.47 L555.50,106.70 L555.75,109.16 L556.00,111.90 L556.25,114.97 L556.50,118.39 L556.75,122.18 L557.00,126.30 L557.25,130.69 L557.50,135.21 L557.75,139.72 L558.00,144.07 L558.25,148.18 L558.50,152.00 L558.75,155.52 L559.00,158.76 L559.25,161.73 L559.50,164.45 L559.75,166.96 L560.00,169.27 L560.25,171.40 L560.50,173.37 L560.75,175.18 L561.00,176.83 L561.25,178.33 L561.50,179.69 L561.75,180.92 L562.00,182.06 L562.25,183.10 L562.50,184.07 L562.75,184.98 L563.00,185.84 L563.25,186.64 L563.50,187.38 L563.75,188.08 L564.00,188.74 L564.25,189.35 L564.50,189.93 L564.75,190.47 L565.00,190.99 L565.25,191.49 L565.50,191.96 L565.75,192.41 L566.00,192.84 L566.25,193.25 L566.50,193.63 L566.75,194.00 L567.00,194.34 L567.25,194.65 L567.50,194.94 L567.75,195.21 L568.00,195.46 L568.25,195.69 L568.50,195.91 L568.75,196.12 L569.00,196.31 L569.25,196.50 L569.50,196.68 L569.75,196.86 L570.00,197.03 L570.25,197.19 L570.50,197.34 L570.75,197.48 L571.00,197.62 L571.25,197.75 L571.50,197.88 L571.75,198.00 L572.00,198.11 L572.25,198.21 L572.50,198.31 L572.75,198.40 L573.00,198.49 L573.25,198.58 L573.50,198.66 L573.75,198.74 L574.00,198.82 L574.25,198.89 L574.50,198.97 L574.75,199.04 L575.00,199.12 L575.25,199.19 L575.50,199.25 L575.75,199.32 L576.00,199.38 L576.25,199.44 L576.50,199.49 L576.75,199.54 L577.00,199.59 L577.25,199.63 L577.50,199.67 L577.75,199.70 L577.8,199.8 L525.0,199.8 Z" fill="#1f77b4" fill-opacity="0.28" stroke="none"/>
<path d="M525.00,199.69 L525.25,199.64 L525.50,199.59 L525.75,199.52 L526.00,199.45 L526.25,199.37 L526.50,199.27 L526.75,199.18 L527.00,199.07 L527.25,198.96 L527.50,198.83 L527.75,198.69 L528.00,198.52 L528.25,198.32 L528.50,198.08 L528.75,197.79 L529.00,197.45 L529.25,197.05 L529.50,196.60 L529.75,196.10 L530.00,195.55 L530.25,194.94 L530.50,194.27 L530.75,193.52 L531.00,192.66 L531.25,191.67 L531.50,190.51 L531.75,189.16 L532.00,187.61 L532.25,185.83 L532.50,183.81 L532.75,181.50 L533.00,178.82 L533.25,175.73 L533.50,172.21 L533.75,168.31 L534.00,164.14 L534.25,159.85 L534.50,155.58 L534.75,151.42 L535.00,147.42 L535.25,143.60 L535.50,139.91 L535.75,136.33 L536.00,132.83 L536.25,129.38 L536.50,125.96 L536.75,122.58 L537.00,119.21 L537.25,115.87 L537.50,112.55 L537.75,109.25 L538.00,105.97 L538.25,102.71 L538.50,99.45 L538.75,96.19 L539.00,92.90 L539.25,89.57 L539.50,86.20 L539.75,82.77 L540.00,79.29 L540.25,75.78 L540.50,72.25 L540.75,68.72 L541.00,65.23 L541.25,61.83 L541.50,58.55 L541.75,55.46 L542.00,52.62 L542.25,50.07 L542.50,47.85 L542.75,45.95 L543.00,44.34 L543.25,43.02 L543.50,41.96 L543.75,41.19 L544.00,40.73 L544.25,40.59 L544.50,40.79 L544.75,41.30 L545.00,42.09 L545.25,43.15 L545.50,44.46 L545.75,46.03 L546.00,47.86 L546.25,49.92 L546.50,52.14 L546.75,54.39 L547.00,56.56 L547.25,58.59 L547.50,60.42 L547.75,62.05 L548.00,63.47 L548.25,64.68 L548.50,65.71 L548.75,66.58 L549.00,67.33 L549.25,68.00 L549.50,68.64 L549.75,69.26 L550.00,69.90 L550.25,70.57 L550.50,71.29 L550.75,72.07 L551.00,72.96 L551.25,73.99 L551.50,75.23 L551.75,76.71 L552.00,78.46 L552.25,80.45 L552.50,82.61 L552.75,84.83 L553.00,87.03 L553.25,89.15 L553.50,91.16 L553.75,93.07 L554.00,94.91 L554.25,96.73 L554.50,98.57 L554.75,100.44 L555.00,102.40 L555.25,104.47 L555.50,106.70 L555.75,109.16 L556.00,111.90 L556.25,114.97 L556.50,118.39 L556.75,122.18 L557.00,126.30 L557.25,130.69 L557.50,135.21 L557.75,139.72 L558.00,144.07 L558.25,148.18 L558.50,152.00 L558.75,155.52 L559.00,158.76 L559.25,161.73 L559.50,164.45 L559.75,166.96 L560.00,169.27 L560.25,171.40 L560.50,173.37 L560.75,175.18 L561.00,176.83 L561.25,178.33 L561.50,179.69 L561.75,180.92 L562.00,182.06 L562.25,183.10 L562.50,184.07 L562.75,184.98 L563.00,185.84 L563.25,186.64 L563.50,187.38 L563.75,188.08 L564.00,188.74 L564.25,189.35 L564.50,189.93 L564.75,190.47 L565.00,190.99 L565.25,191.49 L565.50,191.96 L565.75,192.41 L566.00,192.84 L566.25,193.25 L566.50,193.63 L566.75,194.00 L567.00,194.34 L567.25,194.65 L567.50,194.94 L567.75,195.21 L568.00,195.46 L568.25,195.69 L568.50,195.91 L568.75,196.12 L569.00,196.31 L569.25,196.50 L569.50,196.68 L569.75,196.86 L570.00,197.03 L570.25,197.19 L570.50,197.34 L570.75,197.48 L571.00,197.62 L571.25,197.75 L571.50,197.88 L571.75,198.00 L572.00,198.11 L572.25,198.21 L572.50,198.31 L572.75,198.40 L573.00,198.49 L573.25,198.58 L573.50,198.66 L573.75,198.74 L574.00,198.82 L574.25,198.89 L574.50,198.97 L574.75,199.04 L575.00,199.12 L575.25,199.19 L575.50,199.25 L575.75,199.32 L576.00,199.38 L576.25,199.44 L576.50,199.49 L576.75,199.54 L577.00,199.59 L577.25,199.63 L577.50,199.67 L577.75,199.70" fill="none" stroke="#1f77b4" stroke-width="1.3" stroke-linejoin="round"/>
<path d="M489.50,199.69 L489.75,199.66 L490.00,199.64 L490.25,199.61 L490.50,199.58 L490.75,199.55 L491.00,199.51 L491.25,199.48 L491.50,199.44 L491.75,199.40 L492.00,199.36 L492.25,199.32 L492.50,199.28 L492.75,199.24 L493.00,199.19 L493.25,199.15 L493.50,199.10 L493.75,199.05 L494.00,199.01 L494.25,198.96 L494.50,198.91 L494.75,198.86 L495.00,198.81 L495.25,198.76 L495.50,198.70 L495.75,198.65 L496.00,198.60 L496.25,198.54 L496.50,198.48 L496.75,198.42 L497.00,198.36 L497.25,198.29 L497.50,198.22 L497.75,198.15 L498.00,198.08 L498.25,198.00 L498.50,197.93 L498.75,197.84 L499.00,197.76 L499.25,197.67 L499.50,197.59 L499.75,197.50 L500.00,197.40 L500.25,197.31 L500.50,197.21 L500.75,197.11 L501.00,197.01 L501.25,196.91 L501.50,196.81 L501.75,196.70 L502.00,196.59 L502.25,196.48 L502.50,196.37 L502.75,196.25 L503.00,196.13 L503.25,196.01 L503.50,195.88 L503.75,195.75 L504.00,195.62 L504.25,195.48 L504.50,195.33 L504.75,195.19 L505.00,195.03 L505.25,194.87 L505.50,194.71 L505.75,194.53 L506.00,194.36 L506.25,194.17 L506.50,193.98 L506.75,193.78 L507.00,193.57 L507.25,193.36 L507.50,193.13 L507.75,192.88 L508.00,192.63 L508.25,192.36 L508.50,192.07 L508.75,191.77 L509.00,191.46 L509.25,191.14 L509.50,190.80 L509.75,190.44 L510.00,190.07 L510.25,189.69 L510.50,189.29 L510.75,188.87 L511.00,188.42 L511.25,187.95 L511.50,187.44 L511.75,186.89 L512.00,186.31 L512.25,185.69 L512.50,185.04 L512.75,184.37 L513.00,183.68 L513.25,182.97 L513.50,182.26 L513.75,181.54 L514.00,180.82 L514.25,180.11 L514.50,179.40 L514.75,178.70 L515.00,178.01 L515.25,177.33 L515.50,176.64 L515.75,175.96 L516.00,175.27 L516.25,174.57 L516.50,173.87 L516.75,173.17 L517.00,172.47 L517.25,171.76 L517.50,171.06 L517.75,170.36 L518.00,169.66 L518.25,168.97 L518.50,168.28 L518.75,167.60 L519.00,166.93 L519.25,166.27 L519.50,165.62 L519.75,164.99 L520.00,164.36 L520.25,163.76 L520.50,163.17 L520.75,162.59 L521.00,162.03 L521.25,161.48 L521.50,160.94 L521.75,160.41 L522.00,159.89 L522.25,159.38 L522.50,158.87 L522.75,158.37 L523.00,157.87 L523.25,157.39 L523.50,156.91 L523.75,156.43 L524.00,155.97 L524.25,155.51 L524.50,155.06 L524.75,154.62 L525.00,154.19 L525.25,153.76 L525.50,153.34 L525.75,152.94 L526.00,152.53 L526.25,152.14 L526.50,151.76 L526.75,151.38 L527.00,151.01 L527.25,150.65 L527.50,150.29 L527.75,149.93 L528.00,149.57 L528.25,149.22 L528.50,148.88 L528.75,148.54 L529.00,148.20 L529.25,147.88 L529.50,147.56 L529.75,147.25 L530.00,146.95 L530.25,146.66 L530.50,146.39 L530.75,146.12 L531.00,145.88 L531.25,145.64 L531.50,145.42 L531.75,145.22 L532.00,145.02 L532.25,144.83 L532.50,144.65 L532.75,144.48 L533.00,144.30 L533.25,144.13 L533.50,143.97 L533.75,143.81 L534.00,143.67 L534.25,143.53 L534.50,143.40 L534.75,143.28 L535.00,143.18 L535.25,143.10 L535.50,143.03 L535.75,142.98 L536.00,142.95 L536.25,142.94 L536.50,142.93 L536.75,142.94 L537.00,142.96 L537.25,142.99 L537.50,143.03 L537.75,143.07 L538.00,143.12 L538.25,143.17 L538.50,143.23 L538.75,143.30 L539.00,143.37 L539.25,143.44 L539.50,143.51 L539.75,143.59 L540.00,143.67 L540.25,143.75 L540.50,143.84 L540.75,143.92 L541.00,144.01 L541.25,144.11 L541.50,144.21 L541.75,144.33 L542.00,144.45 L542.25,144.58 L542.50,144.72 L542.75,144.86 L543.00,145.02 L543.25,145.18 L543.50,145.35 L543.75,145.52 L544.00,145.70 L544.25,145.88 L544.50,146.07 L544.75,146.26 L545.00,146.45 L545.25,146.64 L545.50,146.84 L545.75,147.03 L546.00,147.23 L546.25,147.42 L546.50,147.61 L546.75,147.81 L547.00,148.00 L547.25,148.19 L547.50,148.39 L547.75,148.58 L548.00,148.78 L548.25,148.98 L548.50,149.18 L548.75,149.38 L549.00,149.59 L549.25,149.79 L549.50,150.00 L549.75,150.22 L550.00,150.43 L550.25,150.64 L550.50,150.86 L550.75,151.08 L551.00,151.30 L551.25,151.52 L551.50,151.75 L551.75,151.97 L552.00,152.20 L552.25,152.43 L552.50,152.65 L552.75,152.88 L553.00,153.12 L553.25,153.35 L553.50,153.58 L553.75,153.82 L554.00,154.05 L554.25,154.29 L554.50,154.53 L554.75,154.76 L555.00,155.00 L555.25,155.24 L555.50,155.49 L555.75,155.73 L556.00,155.97 L556.25,156.22 L556.50,156.47 L556.75,156.72 L557.00,156.97 L557.25,157.22 L557.50,157.48 L557.75,157.74 L558.00,157.99 L558.25,158.25 L558.50,158.51 L558.75,158.78 L559.00,159.04 L559.25,159.30 L559.50,159.57 L559.75,159.84 L560.00,160.10 L560.25,160.37 L560.50,160.64 L560.75,160.91 L561.00,161.18 L561.25,161.46 L561.50,161.73 L561.75,162.00 L562.00,162.28 L562.25,162.55 L562.50,162.83 L562.75,163.11 L563.00,163.39 L563.25,163.66 L563.50,163.94 L563.75,164.22 L564.00,164.50 L564.25,164.79 L564.50,165.07 L564.75,165.36 L565.00,165.65 L565.25,165.94 L565.50,166.23 L565.75,166.53 L566.00,166.83 L566.25,167.13 L566.50,167.43 L566.75,167.73 L567.00,168.03 L567.25,168.34 L567.50,168.64 L567.75,168.95 L568.00,169.25 L568.25,169.55 L568.50,169.86 L568.75,170.16 L569.00,170.47 L569.25,170.77 L569.50,171.07 L569.75,171.37 L570.00,171.67 L570.25,171.97 L570.50,172.27 L570.75,172.56 L571.00,172.85 L571.25,173.14 L571.50,173.43 L571.75,173.71 L572.00,174.00 L572.25,174.28 L572.50,174.56 L572.75,174.84 L573.00,175.13 L573.25,175.41 L573.50,175.69 L573.75,175.97 L574.00,176.26 L574.25,176.54 L574.50,176.82 L574.75,177.10 L575.00,177.38 L575.25,177.66 L575.50,177.94 L575.75,178.22 L576.00,178.49 L576.25,178.77 L576.50,179.04 L576.75,179.31 L577.00,179.58 L577.25,179.85 L577.50,180.11 L577.75,180.37 L578.00,180.63 L578.25,180.89 L578.50,181.14 L578.75,181.39 L579.00,181.64 L579.25,181.89 L579.50,182.13 L579.75,182.36 L580.00,182.60 L580.25,182.83 L580.50,183.05 L580.75,183.27 L581.00,183.49 L581.25,183.71 L581.50,183.92 L581.75,184.13 L582.00,184.34 L582.25,184.54 L582.50,184.75 L582.75,184.95 L583.00,185.15 L583.25,185.35 L583.50,185.54 L583.75,185.74 L584.00,185.93 L584.25,186.12 L584.50,186.31 L584.75,186.50 L585.00,186.68 L585.25,186.87 L585.50,187.05 L585.75,187.23 L586.00,187.41 L586.25,187.58 L586.50,187.75 L586.75,187.93 L587.00,188.10 L587.25,188.27 L587.50,188.43 L587.75,188.60 L588.00,188.76 L588.25,188.92 L588.50,189.08 L588.75,189.24 L589.00,189.39 L589.25,189.55 L589.50,189.70 L589.75,189.85 L590.00,190.00 L590.25,190.14 L590.50,190.29 L590.75,190.44 L591.00,190.58 L591.25,190.73 L591.50,190.87 L591.75,191.01 L592.00,191.15 L592.25,191.29 L592.50,191.43 L592.75,191.57 L593.00,191.70 L593.25,191.84 L593.50,191.97 L593.75,192.10 L594.00,192.23 L594.25,192.36 L594.50,192.48 L594.75,192.61 L595.00,192.73 L595.25,192.85 L595.50,192.96 L595.75,193.08 L596.00,193.19 L596.25,193.30 L596.50,193.41 L596.75,193.51 L597.00,193.61 L597.25,193.71 L597.50,193.81 L597.75,193.90 L598.00,193.99 L598.25,194.08 L598.50,194.17 L598.75,194.25 L599.00,194.34 L599.25,194.42 L599.50,194.50 L599.75,194.57 L600.00,194.65 L600.25,194.73 L600.50,194.80 L600.75,194.87 L601.00,194.94 L601.25,195.01 L601.50,195.08 L601.75,195.15 L602.00,195.22 L602.25,195.28 L602.50,195.35 L602.75,195.41 L603.00,195.47 L603.25,195.54 L603.50,195.60 L603.75,195.66 L604.00,195.72 L604.25,195.78 L604.50,195.84 L604.75,195.90 L605.00,195.96 L605.25,196.02 L605.50,196.08 L605.75,196.14 L606.00,196.20 L606.25,196.26 L606.50,196.32 L606.75,196.37 L607.00,196.43 L607.25,196.49 L607.50,196.55 L607.75,196.60 L608.00,196.66 L608.25,196.71 L608.50,196.77 L608.75,196.82 L609.00,196.88 L609.25,196.93 L609.50,196.98 L609.75,197.03 L610.00,197.09 L610.25,197.14 L610.50,197.19 L610.75,197.24 L611.00,197.29 L611.25,197.34 L611.50,197.39 L611.75,197.44 L612.00,197.49 L612.25,197.54 L612.50,197.59 L612.75,197.64 L613.00,197.68 L613.25,197.73 L613.50,197.78 L613.75,197.82 L614.00,197.87 L614.25,197.92 L614.50,197.96 L614.75,198.01 L615.00,198.05 L615.25,198.10 L615.50,198.14 L615.75,198.19 L616.00,198.23 L616.25,198.28 L616.50,198.32 L616.75,198.36 L617.00,198.41 L617.25,198.45 L617.50,198.49 L617.75,198.54 L618.00,198.58 L618.25,198.62 L618.50,198.66 L618.75,198.71 L619.00,198.75 L619.25,198.79 L619.50,198.83 L619.75,198.87 L620.00,198.91 L620.25,198.95 L620.50,198.99 L620.75,199.03 L621.00,199.07 L621.25,199.11 L621.50,199.15 L621.75,199.19 L622.00,199.23 L622.25,199.27 L622.50,199.30 L622.75,199.34 L623.00,199.38 L623.25,199.41 L623.50,199.45 L623.75,199.49 L624.00,199.52 L624.25,199.56 L624.50,199.59 L624.75,199.63 L625.00,199.66 L625.25,199.70 L625.2,199.8 L489.5,199.8 Z" fill="#a3add8" fill-opacity="0.28" stroke="none"/>
<path d="M489.50,199.69 L489.75,199.66 L490.00,199.64 L490.25,199.61 L490.50,199.58 L490.75,199.55 L491.00,199.51 L491.25,199.48 L491.50,199.44 L491.75,199.40 L492.00,199.36 L492.25,199.32 L492.50,199.28 L492.75,199.24 L493.00,199.19 L493.25,199.15 L493.50,199.10 L493.75,199.05 L494.00,199.01 L494.25,198.96 L494.50,198.91 L494.75,198.86 L495.00,198.81 L495.25,198.76 L495.50,198.70 L495.75,198.65 L496.00,198.60 L496.25,198.54 L496.50,198.48 L496.75,198.42 L497.00,198.36 L497.25,198.29 L497.50,198.22 L497.75,198.15 L498.00,198.08 L498.25,198.00 L498.50,197.93 L498.75,197.84 L499.00,197.76 L499.25,197.67 L499.50,197.59 L499.75,197.50 L500.00,197.40 L500.25,197.31 L500.50,197.21 L500.75,197.11 L501.00,197.01 L501.25,196.91 L501.50,196.81 L501.75,196.70 L502.00,196.59 L502.25,196.48 L502.50,196.37 L502.75,196.25 L503.00,196.13 L503.25,196.01 L503.50,195.88 L503.75,195.75 L504.00,195.62 L504.25,195.48 L504.50,195.33 L504.75,195.19 L505.00,195.03 L505.25,194.87 L505.50,194.71 L505.75,194.53 L506.00,194.36 L506.25,194.17 L506.50,193.98 L506.75,193.78 L507.00,193.57 L507.25,193.36 L507.50,193.13 L507.75,192.88 L508.00,192.63 L508.25,192.36 L508.50,192.07 L508.75,191.77 L509.00,191.46 L509.25,191.14 L509.50,190.80 L509.75,190.44 L510.00,190.07 L510.25,189.69 L510.50,189.29 L510.75,188.87 L511.00,188.42 L511.25,187.95 L511.50,187.44 L511.75,186.89 L512.00,186.31 L512.25,185.69 L512.50,185.04 L512.75,184.37 L513.00,183.68 L513.25,182.97 L513.50,182.26 L513.75,181.54 L514.00,180.82 L514.25,180.11 L514.50,179.40 L514.75,178.70 L515.00,178.01 L515.25,177.33 L515.50,176.64 L515.75,175.96 L516.00,175.27 L516.25,174.57 L516.50,173.87 L516.75,173.17 L517.00,172.47 L517.25,171.76 L517.50,171.06 L517.75,170.36 L518.00,169.66 L518.25,168.97 L518.50,168.28 L518.75,167.60 L519.00,166.93 L519.25,166.27 L519.50,165.62 L519.75,164.99 L520.00,164.36 L520.25,163.76 L520.50,163.17 L520.75,162.59 L521.00,162.03 L521.25,161.48 L521.50,160.94 L521.75,160.41 L522.00,159.89 L522.25,159.38 L522.50,158.87 L522.75,158.37 L523.00,157.87 L523.25,157.39 L523.50,156.91 L523.75,156.43 L524.00,155.97 L524.25,155.51 L524.50,155.06 L524.75,154.62 L525.00,154.19 L525.25,153.76 L525.50,153.34 L525.75,152.94 L526.00,152.53 L526.25,152.14 L526.50,151.76 L526.75,151.38 L527.00,151.01 L527.25,150.65 L527.50,150.29 L527.75,149.93 L528.00,149.57 L528.25,149.22 L528.50,148.88 L528.75,148.54 L529.00,148.20 L529.25,147.88 L529.50,147.56 L529.75,147.25 L530.00,146.95 L530.25,146.66 L530.50,146.39 L530.75,146.12 L531.00,145.88 L531.25,145.64 L531.50,145.42 L531.75,145.22 L532.00,145.02 L532.25,144.83 L532.50,144.65 L532.75,144.48 L533.00,144.30 L533.25,144.13 L533.50,143.97 L533.75,143.81 L534.00,143.67 L534.25,143.53 L534.50,143.40 L534.75,143.28 L535.00,143.18 L535.25,143.10 L535.50,143.03 L535.75,142.98 L536.00,142.95 L536.25,142.94 L536.50,142.93 L536.75,142.94 L537.00,142.96 L537.25,142.99 L537.50,143.03 L537.75,143.07 L538.00,143.12 L538.25,143.17 L538.50,143.23 L538.75,143.30 L539.00,143.37 L539.25,143.44 L539.50,143.51 L539.75,143.59 L540.00,143.67 L540.25,143.75 L540.50,143.84 L540.75,143.92 L541.00,144.01 L541.25,144.11 L541.50,144.21 L541.75,144.33 L542.00,144.45 L542.25,144.58 L542.50,144.72 L542.75,144.86 L543.00,145.02 L543.25,145.18 L543.50,145.35 L543.75,145.52 L544.00,145.70 L544.25,145.88 L544.50,146.07 L544.75,146.26 L545.00,146.45 L545.25,146.64 L545.50,146.84 L545.75,147.03 L546.00,147.23 L546.25,147.42 L546.50,147.61 L546.75,147.81 L547.00,148.00 L547.25,148.19 L547.50,148.39 L547.75,148.58 L548.00,148.78 L548.25,148.98 L548.50,149.18 L548.75,149.38 L549.00,149.59 L549.25,149.79 L549.50,150.00 L549.75,150.22 L550.00,150.43 L550.25,150.64 L550.50,150.86 L550.75,151.08 L551.00,151.30 L551.25,151.52 L551.50,151.75 L551.75,151.97 L552.00,152.20 L552.25,152.43 L552.50,152.65 L552.75,152.88 L553.00,153.12 L553.25,153.35 L553.50,153.58 L553.75,153.82 L554.00,154.05 L554.25,154.29 L554.50,154.53 L554.75,154.76 L555.00,155.00 L555.25,155.24 L555.50,155.49 L555.75,155.73 L556.00,155.97 L556.25,156.22 L556.50,156.47 L556.75,156.72 L557.00,156.97 L557.25,157.22 L557.50,157.48 L557.75,157.74 L558.00,157.99 L558.25,158.25 L558.50,158.51 L558.75,158.78 L559.00,159.04 L559.25,159.30 L559.50,159.57 L559.75,159.84 L560.00,160.10 L560.25,160.37 L560.50,160.64 L560.75,160.91 L561.00,161.18 L561.25,161.46 L561.50,161.73 L561.75,162.00 L562.00,162.28 L562.25,162.55 L562.50,162.83 L562.75,163.11 L563.00,163.39 L563.25,163.66 L563.50,163.94 L563.75,164.22 L564.00,164.50 L564.25,164.79 L564.50,165.07 L564.75,165.36 L565.00,165.65 L565.25,165.94 L565.50,166.23 L565.75,166.53 L566.00,166.83 L566.25,167.13 L566.50,167.43 L566.75,167.73 L567.00,168.03 L567.25,168.34 L567.50,168.64 L567.75,168.95 L568.00,169.25 L568.25,169.55 L568.50,169.86 L568.75,170.16 L569.00,170.47 L569.25,170.77 L569.50,171.07 L569.75,171.37 L570.00,171.67 L570.25,171.97 L570.50,172.27 L570.75,172.56 L571.00,172.85 L571.25,173.14 L571.50,173.43 L571.75,173.71 L572.00,174.00 L572.25,174.28 L572.50,174.56 L572.75,174.84 L573.00,175.13 L573.25,175.41 L573.50,175.69 L573.75,175.97 L574.00,176.26 L574.25,176.54 L574.50,176.82 L574.75,177.10 L575.00,177.38 L575.25,177.66 L575.50,177.94 L575.75,178.22 L576.00,178.49 L576.25,178.77 L576.50,179.04 L576.75,179.31 L577.00,179.58 L577.25,179.85 L577.50,180.11 L577.75,180.37 L578.00,180.63 L578.25,180.89 L578.50,181.14 L578.75,181.39 L579.00,181.64 L579.25,181.89 L579.50,182.13 L579.75,182.36 L580.00,182.60 L580.25,182.83 L580.50,183.05 L580.75,183.27 L581.00,183.49 L581.25,183.71 L581.50,183.92 L581.75,184.13 L582.00,184.34 L582.25,184.54 L582.50,184.75 L582.75,184.95 L583.00,185.15 L583.25,185.35 L583.50,185.54 L583.75,185.74 L584.00,185.93 L584.25,186.12 L584.50,186.31 L584.75,186.50 L585.00,186.68 L585.25,186.87 L585.50,187.05 L585.75,187.23 L586.00,187.41 L586.25,187.58 L586.50,187.75 L586.75,187.93 L587.00,188.10 L587.25,188.27 L587.50,188.43 L587.75,188.60 L588.00,188.76 L588.25,188.92 L588.50,189.08 L588.75,189.24 L589.00,189.39 L589.25,189.55 L589.50,189.70 L589.75,189.85 L590.00,190.00 L590.25,190.14 L590.50,190.29 L590.75,190.44 L591.00,190.58 L591.25,190.73 L591.50,190.87 L591.75,191.01 L592.00,191.15 L592.25,191.29 L592.50,191.43 L592.75,191.57 L593.00,191.70 L593.25,191.84 L593.50,191.97 L593.75,192.10 L594.00,192.23 L594.25,192.36 L594.50,192.48 L594.75,192.61 L595.00,192.73 L595.25,192.85 L595.50,192.96 L595.75,193.08 L596.00,193.19 L596.25,193.30 L596.50,193.41 L596.75,193.51 L597.00,193.61 L597.25,193.71 L597.50,193.81 L597.75,193.90 L598.00,193.99 L598.25,194.08 L598.50,194.17 L598.75,194.25 L599.00,194.34 L599.25,194.42 L599.50,194.50 L599.75,194.57 L600.00,194.65 L600.25,194.73 L600.50,194.80 L600.75,194.87 L601.00,194.94 L601.25,195.01 L601.50,195.08 L601.75,195.15 L602.00,195.22 L602.25,195.28 L602.50,195.35 L602.75,195.41 L603.00,195.47 L603.25,195.54 L603.50,195.60 L603.75,195.66 L604.00,195.72 L604.25,195.78 L604.50,195.84 L604.75,195.90 L605.00,195.96 L605.25,196.02 L605.50,196.08 L605.75,196.14 L606.00,196.20 L606.25,196.26 L606.50,196.32 L606.75,196.37 L607.00,196.43 L607.25,196.49 L607.50,196.55 L607.75,196.60 L608.00,196.66 L608.25,196.71 L608.50,196.77 L608.75,196.82 L609.00,196.88 L609.25,196.93 L609.50,196.98 L609.75,197.03 L610.00,197.09 L610.25,197.14 L610.50,197.19 L610.75,197.24 L611.00,197.29 L611.25,197.34 L611.50,197.39 L611.75,197.44 L612.00,197.49 L612.25,197.54 L612.50,197.59 L612.75,197.64 L613.00,197.68 L613.25,197.73 L613.50,197.78 L613.75,197.82 L614.00,197.87 L614.25,197.92 L614.50,197.96 L614.75,198.01 L615.00,198.05 L615.25,198.10 L615.50,198.14 L615.75,198.19 L616.00,198.23 L616.25,198.28 L616.50,198.32 L616.75,198.36 L617.00,198.41 L617.25,198.45 L617.50,198.49 L617.75,198.54 L618.00,198.58 L618.25,198.62 L618.50,198.66 L618.75,198.71 L619.00,198.75 L619.25,198.79 L619.50,198.83 L619.75,198.87 L620.00,198.91 L620.25,198.95 L620.50,198.99 L620.75,199.03 L621.00,199.07 L621.25,199.11 L621.50,199.15 L621.75,199.19 L622.00,199.23 L622.25,199.27 L622.50,199.30 L622.75,199.34 L623.00,199.38 L623.25,199.41 L623.50,199.45 L623.75,199.49 L624.00,199.52 L624.25,199.56 L624.50,199.59 L624.75,199.63 L625.00,199.66 L625.25,199.70" fill="none" stroke="#a3add8" stroke-width="1.3" stroke-linejoin="round"/>
<path d="M516.75,199.68 L517.00,199.63 L517.25,199.55 L517.50,199.47 L517.75,199.36 L518.00,199.25 L518.25,199.12 L518.50,198.98 L518.75,198.83 L519.00,198.66 L519.25,198.49 L519.50,198.30 L519.75,198.11 L520.00,197.89 L520.25,197.66 L520.50,197.39 L520.75,197.08 L521.00,196.72 L521.25,196.30 L521.50,195.81 L521.75,195.25 L522.00,194.64 L522.25,193.97 L522.50,193.24 L522.75,192.46 L523.00,191.63 L523.25,190.72 L523.50,189.73 L523.75,188.64 L524.00,187.42 L524.25,186.08 L524.50,184.62 L524.75,183.05 L525.00,181.38 L525.25,179.61 L525.50,177.76 L525.75,175.80 L526.00,173.75 L526.25,171.61 L526.50,169.39 L526.75,167.13 L527.00,164.84 L527.25,162.57 L527.50,160.30 L527.75,158.04 L528.00,155.75 L528.25,153.39 L528.50,150.90 L528.75,148.19 L529.00,145.21 L529.25,141.94 L529.50,138.42 L529.75,134.78 L530.00,131.20 L530.25,127.82 L530.50,124.75 L530.75,122.01 L531.00,119.56 L531.25,117.34 L531.50,115.27 L531.75,113.30 L532.00,111.37 L532.25,109.44 L532.50,107.49 L532.75,105.49 L533.00,103.46 L533.25,101.39 L533.50,99.32 L533.75,97.28 L534.00,95.29 L534.25,93.38 L534.50,91.59 L534.75,89.93 L535.00,88.39 L535.25,86.98 L535.50,85.69 L535.75,84.51 L536.00,83.46 L536.25,82.58 L536.50,81.91 L536.75,81.50 L537.00,81.39 L537.25,81.63 L537.50,82.22 L537.75,83.19 L538.00,84.57 L538.25,86.37 L538.50,88.55 L538.75,90.97 L539.00,93.42 L539.25,95.68 L539.50,97.60 L539.75,99.15 L540.00,100.39 L540.25,101.41 L540.50,102.27 L540.75,103.03 L541.00,103.72 L541.25,104.35 L541.50,104.94 L541.75,105.51 L542.00,106.08 L542.25,106.66 L542.50,107.27 L542.75,107.91 L543.00,108.58 L543.25,109.27 L543.50,109.99 L543.75,110.72 L544.00,111.45 L544.25,112.18 L544.50,112.91 L544.75,113.64 L545.00,114.37 L545.25,115.09 L545.50,115.81 L545.75,116.52 L546.00,117.22 L546.25,117.92 L546.50,118.61 L546.75,119.29 L547.00,119.96 L547.25,120.61 L547.50,121.25 L547.75,121.87 L548.00,122.48 L548.25,123.09 L548.50,123.69 L548.75,124.30 L549.00,124.91 L549.25,125.55 L549.50,126.20 L549.75,126.88 L550.00,127.59 L550.25,128.34 L550.50,129.12 L550.75,129.94 L551.00,130.79 L551.25,131.68 L551.50,132.61 L551.75,133.56 L552.00,134.55 L552.25,135.56 L552.50,136.61 L552.75,137.69 L553.00,138.79 L553.25,139.94 L553.50,141.12 L553.75,142.35 L554.00,143.64 L554.25,144.97 L554.50,146.36 L554.75,147.78 L555.00,149.23 L555.25,150.70 L555.50,152.17 L555.75,153.64 L556.00,155.10 L556.25,156.55 L556.50,157.98 L556.75,159.41 L557.00,160.84 L557.25,162.26 L557.50,163.69 L557.75,165.10 L558.00,166.49 L558.25,167.85 L558.50,169.17 L558.75,170.43 L559.00,171.64 L559.25,172.78 L559.50,173.87 L559.75,174.90 L560.00,175.89 L560.25,176.84 L560.50,177.76 L560.75,178.65 L561.00,179.50 L561.25,180.33 L561.50,181.11 L561.75,181.86 L562.00,182.56 L562.25,183.21 L562.50,183.82 L562.75,184.39 L563.00,184.91 L563.25,185.40 L563.50,185.86 L563.75,186.30 L564.00,186.71 L564.25,187.11 L564.50,187.50 L564.75,187.87 L565.00,188.22 L565.25,188.56 L565.50,188.89 L565.75,189.20 L566.00,189.50 L566.25,189.79 L566.50,190.06 L566.75,190.33 L567.00,190.58 L567.25,190.82 L567.50,191.05 L567.75,191.27 L568.00,191.48 L568.25,191.68 L568.50,191.88 L568.75,192.07 L569.00,192.26 L569.25,192.44 L569.50,192.61 L569.75,192.78 L570.00,192.95 L570.25,193.11 L570.50,193.27 L570.75,193.42 L571.00,193.57 L571.25,193.71 L571.50,193.85 L571.75,193.99 L572.00,194.12 L572.25,194.25 L572.50,194.38 L572.75,194.50 L573.00,194.62 L573.25,194.74 L573.50,194.86 L573.75,194.97 L574.00,195.08 L574.25,195.19 L574.50,195.29 L574.75,195.39 L575.00,195.50 L575.25,195.59 L575.50,195.69 L575.75,195.79 L576.00,195.88 L576.25,195.97 L576.50,196.07 L576.75,196.15 L577.00,196.24 L577.25,196.33 L577.50,196.41 L577.75,196.50 L578.00,196.58 L578.25,196.66 L578.50,196.74 L578.75,196.82 L579.00,196.89 L579.25,196.97 L579.50,197.04 L579.75,197.12 L580.00,197.19 L580.25,197.26 L580.50,197.33 L580.75,197.40 L581.00,197.47 L581.25,197.53 L581.50,197.60 L581.75,197.66 L582.00,197.72 L582.25,197.79 L582.50,197.85 L582.75,197.91 L583.00,197.97 L583.25,198.03 L583.50,198.08 L583.75,198.14 L584.00,198.20 L584.25,198.25 L584.50,198.31 L584.75,198.36 L585.00,198.42 L585.25,198.47 L585.50,198.53 L585.75,198.58 L586.00,198.63 L586.25,198.68 L586.50,198.73 L586.75,198.78 L587.00,198.83 L587.25,198.88 L587.50,198.93 L587.75,198.98 L588.00,199.03 L588.25,199.07 L588.50,199.12 L588.75,199.16 L589.00,199.21 L589.25,199.25 L589.50,199.29 L589.75,199.34 L590.00,199.38 L590.25,199.42 L590.50,199.46 L590.75,199.49 L591.00,199.53 L591.25,199.57 L591.50,199.60 L591.75,199.64 L592.00,199.67 L592.25,199.70 L592.2,199.8 L516.8,199.8 Z" fill="#f08ac6" fill-opacity="0.28" stroke="none"/>
<path d="M516.75,199.68 L517.00,199.63 L517.25,199.55 L517.50,199.47 L517.75,199.36 L518.00,199.25 L518.25,199.12 L518.50,198.98 L518.75,198.83 L519.00,198.66 L519.25,198.49 L519.50,198.30 L519.75,198.11 L520.00,197.89 L520.25,197.66 L520.50,197.39 L520.75,197.08 L521.00,196.72 L521.25,196.30 L521.50,195.81 L521.75,195.25 L522.00,194.64 L522.25,193.97 L522.50,193.24 L522.75,192.46 L523.00,191.63 L523.25,190.72 L523.50,189.73 L523.75,188.64 L524.00,187.42 L524.25,186.08 L524.50,184.62 L524.75,183.05 L525.00,181.38 L525.25,179.61 L525.50,177.76 L525.75,175.80 L526.00,173.75 L526.25,171.61 L526.50,169.39 L526.75,167.13 L527.00,164.84 L527.25,162.57 L527.50,160.30 L527.75,158.04 L528.00,155.75 L528.25,153.39 L528.50,150.90 L528.75,148.19 L529.00,145.21 L529.25,141.94 L529.50,138.42 L529.75,134.78 L530.00,131.20 L530.25,127.82 L530.50,124.75 L530.75,122.01 L531.00,119.56 L531.25,117.34 L531.50,115.27 L531.75,113.30 L532.00,111.37 L532.25,109.44 L532.50,107.49 L532.75,105.49 L533.00,103.46 L533.25,101.39 L533.50,99.32 L533.75,97.28 L534.00,95.29 L534.25,93.38 L534.50,91.59 L534.75,89.93 L535.00,88.39 L535.25,86.98 L535.50,85.69 L535.75,84.51 L536.00,83.46 L536.25,82.58 L536.50,81.91 L536.75,81.50 L537.00,81.39 L537.25,81.63 L537.50,82.22 L537.75,83.19 L538.00,84.57 L538.25,86.37 L538.50,88.55 L538.75,90.97 L539.00,93.42 L539.25,95.68 L539.50,97.60 L539.75,99.15 L540.00,100.39 L540.25,101.41 L540.50,102.27 L540.75,103.03 L541.00,103.72 L541.25,104.35 L541.50,104.94 L541.75,105.51 L542.00,106.08 L542.25,106.66 L542.50,107.27 L542.75,107.91 L543.00,108.58 L543.25,109.27 L543.50,109.99 L543.75,110.72 L544.00,111.45 L544.25,112.18 L544.50,112.91 L544.75,113.64 L545.00,114.37 L545.25,115.09 L545.50,115.81 L545.75,116.52 L546.00,117.22 L546.25,117.92 L546.50,118.61 L546.75,119.29 L547.00,119.96 L547.25,120.61 L547.50,121.25 L547.75,121.87 L548.00,122.48 L548.25,123.09 L548.50,123.69 L548.75,124.30 L549.00,124.91 L549.25,125.55 L549.50,126.20 L549.75,126.88 L550.00,127.59 L550.25,128.34 L550.50,129.12 L550.75,129.94 L551.00,130.79 L551.25,131.68 L551.50,132.61 L551.75,133.56 L552.00,134.55 L552.25,135.56 L552.50,136.61 L552.75,137.69 L553.00,138.79 L553.25,139.94 L553.50,141.12 L553.75,142.35 L554.00,143.64 L554.25,144.97 L554.50,146.36 L554.75,147.78 L555.00,149.23 L555.25,150.70 L555.50,152.17 L555.75,153.64 L556.00,155.10 L556.25,156.55 L556.50,157.98 L556.75,159.41 L557.00,160.84 L557.25,162.26 L557.50,163.69 L557.75,165.10 L558.00,166.49 L558.25,167.85 L558.50,169.17 L558.75,170.43 L559.00,171.64 L559.25,172.78 L559.50,173.87 L559.75,174.90 L560.00,175.89 L560.25,176.84 L560.50,177.76 L560.75,178.65 L561.00,179.50 L561.25,180.33 L561.50,181.11 L561.75,181.86 L562.00,182.56 L562.25,183.21 L562.50,183.82 L562.75,184.39 L563.00,184.91 L563.25,185.40 L563.50,185.86 L563.75,186.30 L564.00,186.71 L564.25,187.11 L564.50,187.50 L564.75,187.87 L565.00,188.22 L565.25,188.56 L565.50,188.89 L565.75,189.20 L566.00,189.50 L566.25,189.79 L566.50,190.06 L566.75,190.33 L567.00,190.58 L567.25,190.82 L567.50,191.05 L567.75,191.27 L568.00,191.48 L568.25,191.68 L568.50,191.88 L568.75,192.07 L569.00,192.26 L569.25,192.44 L569.50,192.61 L569.75,192.78 L570.00,192.95 L570.25,193.11 L570.50,193.27 L570.75,193.42 L571.00,193.57 L571.25,193.71 L571.50,193.85 L571.75,193.99 L572.00,194.12 L572.25,194.25 L572.50,194.38 L572.75,194.50 L573.00,194.62 L573.25,194.74 L573.50,194.86 L573.75,194.97 L574.00,195.08 L574.25,195.19 L574.50,195.29 L574.75,195.39 L575.00,195.50 L575.25,195.59 L575.50,195.69 L575.75,195.79 L576.00,195.88 L576.25,195.97 L576.50,196.07 L576.75,196.15 L577.00,196.24 L577.25,196.33 L577.50,196.41 L577.75,196.50 L578.00,196.58 L578.25,196.66 L578.50,196.74 L578.75,196.82 L579.00,196.89 L579.25,196.97 L579.50,197.04 L579.75,197.12 L580.00,197.19 L580.25,197.26 L580.50,197.33 L580.75,197.40 L581.00,197.47 L581.25,197.53 L581.50,197.60 L581.75,197.66 L582.00,197.72 L582.25,197.79 L582.50,197.85 L582.75,197.91 L583.00,197.97 L583.25,198.03 L583.50,198.08 L583.75,198.14 L584.00,198.20 L584.25,198.25 L584.50,198.31 L584.75,198.36 L585.00,198.42 L585.25,198.47 L585.50,198.53 L585.75,198.58 L586.00,198.63 L586.25,198.68 L586.50,198.73 L586.75,198.78 L587.00,198.83 L587.25,198.88 L587.50,198.93 L587.75,198.98 L588.00,199.03 L588.25,199.07 L588.50,199.12 L588.75,199.16 L589.00,199.21 L589.25,199.25 L589.50,199.29 L589.75,199.34 L590.00,199.38 L590.25,199.42 L590.50,199.46 L590.75,199.49 L591.00,199.53 L591.25,199.57 L591.50,199.60 L591.75,199.64 L592.00,199.67 L592.25,199.70" fill="none" stroke="#f08ac6" stroke-width="1.3" stroke-linejoin="round"/>
<path d="M519.75,199.69 L520.00,199.64 L520.25,199.57 L520.50,199.50 L520.75,199.40 L521.00,199.30 L521.25,199.19 L521.50,199.07 L521.75,198.94 L522.00,198.80 L522.25,198.65 L522.50,198.50 L522.75,198.33 L523.00,198.14 L523.25,197.94 L523.50,197.70 L523.75,197.43 L524.00,197.12 L524.25,196.78 L524.50,196.40 L524.75,195.99 L525.00,195.54 L525.25,195.05 L525.50,194.53 L525.75,193.96 L526.00,193.33 L526.25,192.63 L526.50,191.84 L526.75,190.96 L527.00,189.97 L527.25,188.87 L527.50,187.65 L527.75,186.30 L528.00,184.78 L528.25,183.07 L528.50,181.13 L528.75,178.94 L529.00,176.50 L529.25,173.80 L529.50,170.86 L529.75,167.66 L530.00,164.19 L530.25,160.43 L530.50,156.38 L530.75,152.08 L531.00,147.64 L531.25,143.17 L531.50,138.80 L531.75,134.67 L532.00,130.83 L532.25,127.32 L532.50,124.12 L532.75,121.17 L533.00,118.42 L533.25,115.83 L533.50,113.36 L533.75,110.98 L534.00,108.69 L534.25,106.45 L534.50,104.27 L534.75,102.15 L535.00,100.06 L535.25,97.95 L535.50,95.68 L535.75,93.05 L536.00,89.88 L536.25,86.09 L536.50,81.81 L536.75,77.37 L537.00,73.15 L537.25,69.44 L537.50,66.36 L537.75,63.89 L538.00,61.93 L538.25,60.38 L538.50,59.12 L538.75,58.13 L539.00,57.36 L539.25,56.82 L539.50,56.50 L539.75,56.39 L540.00,56.48 L540.25,56.75 L540.50,57.20 L540.75,57.84 L541.00,58.74 L541.25,59.96 L541.50,61.57 L541.75,63.61 L542.00,66.06 L542.25,68.90 L542.50,72.05 L542.75,75.44 L543.00,78.97 L543.25,82.52 L543.50,85.97 L543.75,89.24 L544.00,92.29 L544.25,95.12 L544.50,97.72 L544.75,100.08 L545.00,102.20 L545.25,104.10 L545.50,105.78 L545.75,107.27 L546.00,108.62 L546.25,109.84 L546.50,110.97 L546.75,112.02 L547.00,113.00 L547.25,113.93 L547.50,114.82 L547.75,115.69 L548.00,116.53 L548.25,117.38 L548.50,118.23 L548.75,119.09 L549.00,120.00 L549.25,120.94 L549.50,121.94 L549.75,123.01 L550.00,124.14 L550.25,125.36 L550.50,126.67 L550.75,128.05 L551.00,129.51 L551.25,131.04 L551.50,132.63 L551.75,134.27 L552.00,135.95 L552.25,137.67 L552.50,139.40 L552.75,141.16 L553.00,142.93 L553.25,144.72 L553.50,146.54 L553.75,148.40 L554.00,150.28 L554.25,152.20 L554.50,154.12 L554.75,156.03 L555.00,157.92 L555.25,159.75 L555.50,161.52 L555.75,163.21 L556.00,164.83 L556.25,166.39 L556.50,167.89 L556.75,169.34 L557.00,170.75 L557.25,172.11 L557.50,173.42 L557.75,174.67 L558.00,175.85 L558.25,176.97 L558.50,178.00 L558.75,178.96 L559.00,179.84 L559.25,180.67 L559.50,181.44 L559.75,182.17 L560.00,182.87 L560.25,183.53 L560.50,184.17 L560.75,184.78 L561.00,185.36 L561.25,185.91 L561.50,186.43 L561.75,186.92 L562.00,187.38 L562.25,187.81 L562.50,188.22 L562.75,188.59 L563.00,188.95 L563.25,189.28 L563.50,189.59 L563.75,189.89 L564.00,190.17 L564.25,190.45 L564.50,190.71 L564.75,190.96 L565.00,191.20 L565.25,191.43 L565.50,191.65 L565.75,191.86 L566.00,192.07 L566.25,192.27 L566.50,192.46 L566.75,192.64 L567.00,192.82 L567.25,193.00 L567.50,193.17 L567.75,193.33 L568.00,193.49 L568.25,193.65 L568.50,193.81 L568.75,193.96 L569.00,194.11 L569.25,194.26 L569.50,194.40 L569.75,194.54 L570.00,194.68 L570.25,194.82 L570.50,194.95 L570.75,195.08 L571.00,195.20 L571.25,195.33 L571.50,195.44 L571.75,195.56 L572.00,195.67 L572.25,195.77 L572.50,195.88 L572.75,195.97 L573.00,196.07 L573.25,196.15 L573.50,196.24 L573.75,196.32 L574.00,196.39 L574.25,196.47 L574.50,196.54 L574.75,196.61 L575.00,196.68 L575.25,196.75 L575.50,196.82 L575.75,196.89 L576.00,196.96 L576.25,197.02 L576.50,197.09 L576.75,197.15 L577.00,197.21 L577.25,197.26 L577.50,197.31 L577.75,197.36 L578.00,197.40 L578.25,197.44 L578.50,197.48 L578.75,197.51 L579.00,197.54 L579.25,197.56 L579.50,197.57 L579.75,197.58 L580.00,197.58 L580.25,197.57 L580.50,197.55 L580.75,197.52 L581.00,197.49 L581.25,197.45 L581.50,197.40 L581.75,197.35 L582.00,197.30 L582.25,197.25 L582.50,197.20 L582.75,197.15 L583.00,197.11 L583.25,197.08 L583.50,197.05 L583.75,197.03 L584.00,197.02 L584.25,197.03 L584.50,197.03 L584.75,197.05 L585.00,197.08 L585.25,197.10 L585.50,197.14 L585.75,197.18 L586.00,197.22 L586.25,197.26 L586.50,197.31 L586.75,197.36 L587.00,197.41 L587.25,197.47 L587.50,197.54 L587.75,197.61 L588.00,197.69 L588.25,197.78 L588.50,197.87 L588.75,197.97 L589.00,198.07 L589.25,198.17 L589.50,198.27 L589.75,198.37 L590.00,198.46 L590.25,198.55 L590.50,198.64 L590.75,198.71 L591.00,198.79 L591.25,198.86 L591.50,198.92 L591.75,198.99 L592.00,199.05 L592.25,199.11 L592.50,199.16 L592.75,199.22 L593.00,199.28 L593.25,199.33 L593.50,199.38 L593.75,199.43 L594.00,199.48 L594.25,199.53 L594.50,199.57 L594.75,199.62 L595.00,199.66 L595.25,199.69 L595.2,199.8 L519.8,199.8 Z" fill="#a6d854" fill-opacity="0.28" stroke="none"/>
<path d="M519.75,199.69 L520.00,199.64 L520.25,199.57 L520.50,199.50 L520.75,199.40 L521.00,199.30 L521.25,199.19 L521.50,199.07 L521.75,198.94 L522.00,198.80 L522.25,198.65 L522.50,198.50 L522.75,198.33 L523.00,198.14 L523.25,197.94 L523.50,197.70 L523.75,197.43 L524.00,197.12 L524.25,196.78 L524.50,196.40 L524.75,195.99 L525.00,195.54 L525.25,195.05 L525.50,194.53 L525.75,193.96 L526.00,193.33 L526.25,192.63 L526.50,191.84 L526.75,190.96 L527.00,189.97 L527.25,188.87 L527.50,187.65 L527.75,186.30 L528.00,184.78 L528.25,183.07 L528.50,181.13 L528.75,178.94 L529.00,176.50 L529.25,173.80 L529.50,170.86 L529.75,167.66 L530.00,164.19 L530.25,160.43 L530.50,156.38 L530.75,152.08 L531.00,147.64 L531.25,143.17 L531.50,138.80 L531.75,134.67 L532.00,130.83 L532.25,127.32 L532.50,124.12 L532.75,121.17 L533.00,118.42 L533.25,115.83 L533.50,113.36 L533.75,110.98 L534.00,108.69 L534.25,106.45 L534.50,104.27 L534.75,102.15 L535.00,100.06 L535.25,97.95 L535.50,95.68 L535.75,93.05 L536.00,89.88 L536.25,86.09 L536.50,81.81 L536.75,77.37 L537.00,73.15 L537.25,69.44 L537.50,66.36 L537.75,63.89 L538.00,61.93 L538.25,60.38 L538.50,59.12 L538.75,58.13 L539.00,57.36 L539.25,56.82 L539.50,56.50 L539.75,56.39 L540.00,56.48 L540.25,56.75 L540.50,57.20 L540.75,57.84 L541.00,58.74 L541.25,59.96 L541.50,61.57 L541.75,63.61 L542.00,66.06 L542.25,68.90 L542.50,72.05 L542.75,75.44 L543.00,78.97 L543.25,82.52 L543.50,85.97 L543.75,89.24 L544.00,92.29 L544.25,95.12 L544.50,97.72 L544.75,100.08 L545.00,102.20 L545.25,104.10 L545.50,105.78 L545.75,107.27 L546.00,108.62 L546.25,109.84 L546.50,110.97 L546.75,112.02 L547.00,113.00 L547.25,113.93 L547.50,114.82 L547.75,115.69 L548.00,116.53 L548.25,117.38 L548.50,118.23 L548.75,119.09 L549.00,120.00 L549.25,120.94 L549.50,121.94 L549.75,123.01 L550.00,124.14 L550.25,125.36 L550.50,126.67 L550.75,128.05 L551.00,129.51 L551.25,131.04 L551.50,132.63 L551.75,134.27 L552.00,135.95 L552.25,137.67 L552.50,139.40 L552.75,141.16 L553.00,142.93 L553.25,144.72 L553.50,146.54 L553.75,148.40 L554.00,150.28 L554.25,152.20 L554.50,154.12 L554.75,156.03 L555.00,157.92 L555.25,159.75 L555.50,161.52 L555.75,163.21 L556.00,164.83 L556.25,166.39 L556.50,167.89 L556.75,169.34 L557.00,170.75 L557.25,172.11 L557.50,173.42 L557.75,174.67 L558.00,175.85 L558.25,176.97 L558.50,178.00 L558.75,178.96 L559.00,179.84 L559.25,180.67 L559.50,181.44 L559.75,182.17 L560.00,182.87 L560.25,183.53 L560.50,184.17 L560.75,184.78 L561.00,185.36 L561.25,185.91 L561.50,186.43 L561.75,186.92 L562.00,187.38 L562.25,187.81 L562.50,188.22 L562.75,188.59 L563.00,188.95 L563.25,189.28 L563.50,189.59 L563.75,189.89 L564.00,190.17 L564.25,190.45 L564.50,190.71 L564.75,190.96 L565.00,191.20 L565.25,191.43 L565.50,191.65 L565.75,191.86 L566.00,192.07 L566.25,192.27 L566.50,192.46 L566.75,192.64 L567.00,192.82 L567.25,193.00 L567.50,193.17 L567.75,193.33 L568.00,193.49 L568.25,193.65 L568.50,193.81 L568.75,193.96 L569.00,194.11 L569.25,194.26 L569.50,194.40 L569.75,194.54 L570.00,194.68 L570.25,194.82 L570.50,194.95 L570.75,195.08 L571.00,195.20 L571.25,195.33 L571.50,195.44 L571.75,195.56 L572.00,195.67 L572.25,195.77 L572.50,195.88 L572.75,195.97 L573.00,196.07 L573.25,196.15 L573.50,196.24 L573.75,196.32 L574.00,196.39 L574.25,196.47 L574.50,196.54 L574.75,196.61 L575.00,196.68 L575.25,196.75 L575.50,196.82 L575.75,196.89 L576.00,196.96 L576.25,197.02 L576.50,197.09 L576.75,197.15 L577.00,197.21 L577.25,197.26 L577.50,197.31 L577.75,197.36 L578.00,197.40 L578.25,197.44 L578.50,197.48 L578.75,197.51 L579.00,197.54 L579.25,197.56 L579.50,197.57 L579.75,197.58 L580.00,197.58 L580.25,197.57 L580.50,197.55 L580.75,197.52 L581.00,197.49 L581.25,197.45 L581.50,197.40 L581.75,197.35 L582.00,197.30 L582.25,197.25 L582.50,197.20 L582.75,197.15 L583.00,197.11 L583.25,197.08 L583.50,197.05 L583.75,197.03 L584.00,197.02 L584.25,197.03 L584.50,197.03 L584.75,197.05 L585.00,197.08 L585.25,197.10 L585.50,197.14 L585.75,197.18 L586.00,197.22 L586.25,197.26 L586.50,197.31 L586.75,197.36 L587.00,197.41 L587.25,197.47 L587.50,197.54 L587.75,197.61 L588.00,197.69 L588.25,197.78 L588.50,197.87 L588.75,197.97 L589.00,198.07 L589.25,198.17 L589.50,198.27 L589.75,198.37 L590.00,198.46 L590.25,198.55 L590.50,198.64 L590.75,198.71 L591.00,198.79 L591.25,198.86 L591.50,198.92 L591.75,198.99 L592.00,199.05 L592.25,199.11 L592.50,199.16 L592.75,199.22 L593.00,199.28 L593.25,199.33 L593.50,199.38 L593.75,199.43 L594.00,199.48 L594.25,199.53 L594.50,199.57 L594.75,199.62 L595.00,199.66 L595.25,199.69" fill="none" stroke="#a6d854" stroke-width="1.3" stroke-linejoin="round"/>
<path d="M522.75,199.72 L523.00,199.67 L523.25,199.62 L523.50,199.56 L523.75,199.49 L524.00,199.40 L524.25,199.31 L524.50,199.22 L524.75,199.11 L525.00,199.00 L525.25,198.88 L525.50,198.75 L525.75,198.60 L526.00,198.44 L526.25,198.26 L526.50,198.04 L526.75,197.80 L527.00,197.51 L527.25,197.19 L527.50,196.83 L527.75,196.43 L528.00,195.99 L528.25,195.52 L528.50,195.01 L528.75,194.44 L529.00,193.81 L529.25,193.11 L529.50,192.30 L529.75,191.38 L530.00,190.31 L530.25,189.08 L530.50,187.64 L530.75,185.94 L531.00,183.89 L531.25,181.42 L531.50,178.46 L531.75,174.96 L532.00,170.92 L532.25,166.36 L532.50,161.37 L532.75,156.16 L533.00,150.98 L533.25,146.10 L533.50,141.68 L533.75,137.75 L534.00,134.25 L534.25,131.09 L534.50,128.19 L534.75,125.50 L535.00,122.98 L535.25,120.59 L535.50,118.30 L535.75,116.09 L536.00,113.94 L536.25,111.85 L536.50,109.82 L536.75,107.86 L537.00,105.99 L537.25,104.20 L537.50,102.48 L537.75,100.79 L538.00,99.09 L538.25,97.33 L538.50,95.45 L538.75,93.37 L539.00,91.04 L539.25,88.44 L539.50,85.61 L539.75,82.64 L540.00,79.68 L540.25,76.90 L540.50,74.39 L540.75,72.21 L541.00,70.36 L541.25,68.83 L541.50,67.58 L541.75,66.59 L542.00,65.83 L542.25,65.33 L542.50,65.09 L542.75,65.13 L543.00,65.41 L543.25,65.91 L543.50,66.58 L543.75,67.37 L544.00,68.25 L544.25,69.19 L544.50,70.16 L544.75,71.14 L545.00,72.11 L545.25,73.05 L545.50,73.93 L545.75,74.76 L546.00,75.56 L546.25,76.33 L546.50,77.08 L546.75,77.84 L547.00,78.61 L547.25,79.41 L547.50,80.23 L547.75,81.08 L548.00,81.96 L548.25,82.89 L548.50,83.86 L548.75,84.89 L549.00,85.95 L549.25,87.04 L549.50,88.11 L549.75,89.13 L550.00,90.08 L550.25,90.94 L550.50,91.73 L550.75,92.46 L551.00,93.15 L551.25,93.84 L551.50,94.56 L551.75,95.33 L552.00,96.18 L552.25,97.14 L552.50,98.22 L552.75,99.43 L553.00,100.76 L553.25,102.21 L553.50,103.74 L553.75,105.34 L554.00,106.97 L554.25,108.62 L554.50,110.29 L554.75,111.97 L555.00,113.70 L555.25,115.51 L555.50,117.48 L555.75,119.68 L556.00,122.23 L556.25,125.22 L556.50,128.72 L556.75,132.69 L557.00,136.98 L557.25,141.38 L557.50,145.68 L557.75,149.73 L558.00,153.48 L558.25,156.91 L558.50,160.02 L558.75,162.82 L559.00,165.33 L559.25,167.57 L559.50,169.60 L559.75,171.45 L560.00,173.14 L560.25,174.70 L560.50,176.14 L560.75,177.47 L561.00,178.68 L561.25,179.80 L561.50,180.82 L561.75,181.77 L562.00,182.66 L562.25,183.50 L562.50,184.29 L562.75,185.04 L563.00,185.74 L563.25,186.41 L563.50,187.04 L563.75,187.62 L564.00,188.16 L564.25,188.66 L564.50,189.12 L564.75,189.54 L565.00,189.93 L565.25,190.28 L565.50,190.61 L565.75,190.93 L566.00,191.22 L566.25,191.50 L566.50,191.77 L566.75,192.02 L567.00,192.27 L567.25,192.50 L567.50,192.72 L567.75,192.93 L568.00,193.14 L568.25,193.33 L568.50,193.52 L568.75,193.69 L569.00,193.87 L569.25,194.03 L569.50,194.19 L569.75,194.34 L570.00,194.49 L570.25,194.63 L570.50,194.77 L570.75,194.91 L571.00,195.04 L571.25,195.18 L571.50,195.30 L571.75,195.43 L572.00,195.55 L572.25,195.66 L572.50,195.78 L572.75,195.89 L573.00,196.00 L573.25,196.11 L573.50,196.21 L573.75,196.31 L574.00,196.41 L574.25,196.51 L574.50,196.60 L574.75,196.69 L575.00,196.78 L575.25,196.86 L575.50,196.94 L575.75,197.03 L576.00,197.10 L576.25,197.18 L576.50,197.25 L576.75,197.33 L577.00,197.40 L577.25,197.46 L577.50,197.53 L577.75,197.60 L578.00,197.66 L578.25,197.73 L578.50,197.79 L578.75,197.85 L579.00,197.91 L579.25,197.97 L579.50,198.03 L579.75,198.09 L580.00,198.14 L580.25,198.20 L580.50,198.25 L580.75,198.31 L581.00,198.36 L581.25,198.41 L581.50,198.46 L581.75,198.51 L582.00,198.56 L582.25,198.60 L582.50,198.65 L582.75,198.70 L583.00,198.74 L583.25,198.78 L583.50,198.83 L583.75,198.87 L584.00,198.91 L584.25,198.95 L584.50,198.99 L584.75,199.02 L585.00,199.06 L585.25,199.10 L585.50,199.13 L585.75,199.16 L586.00,199.20 L586.25,199.23 L586.50,199.26 L586.75,199.29 L587.00,199.33 L587.25,199.36 L587.50,199.39 L587.75,199.41 L588.00,199.44 L588.25,199.47 L588.50,199.50 L588.75,199.53 L589.00,199.55 L589.25,199.58 L589.50,199.60 L589.75,199.62 L590.00,199.65 L590.25,199.67 L590.50,199.69 L590.5,199.8 L522.8,199.8 Z" fill="#e41a1c" fill-opacity="0.28" stroke="none"/>
<path d="M522.75,199.72 L523.00,199.67 L523.25,199.62 L523.50,199.56 L523.75,199.49 L524.00,199.40 L524.25,199.31 L524.50,199.22 L524.75,199.11 L525.00,199.00 L525.25,198.88 L525.50,198.75 L525.75,198.60 L526.00,198.44 L526.25,198.26 L526.50,198.04 L526.75,197.80 L527.00,197.51 L527.25,197.19 L527.50,196.83 L527.75,196.43 L528.00,195.99 L528.25,195.52 L528.50,195.01 L528.75,194.44 L529.00,193.81 L529.25,193.11 L529.50,192.30 L529.75,191.38 L530.00,190.31 L530.25,189.08 L530.50,187.64 L530.75,185.94 L531.00,183.89 L531.25,181.42 L531.50,178.46 L531.75,174.96 L532.00,170.92 L532.25,166.36 L532.50,161.37 L532.75,156.16 L533.00,150.98 L533.25,146.10 L533.50,141.68 L533.75,137.75 L534.00,134.25 L534.25,131.09 L534.50,128.19 L534.75,125.50 L535.00,122.98 L535.25,120.59 L535.50,118.30 L535.75,116.09 L536.00,113.94 L536.25,111.85 L536.50,109.82 L536.75,107.86 L537.00,105.99 L537.25,104.20 L537.50,102.48 L537.75,100.79 L538.00,99.09 L538.25,97.33 L538.50,95.45 L538.75,93.37 L539.00,91.04 L539.25,88.44 L539.50,85.61 L539.75,82.64 L540.00,79.68 L540.25,76.90 L540.50,74.39 L540.75,72.21 L541.00,70.36 L541.25,68.83 L541.50,67.58 L541.75,66.59 L542.00,65.83 L542.25,65.33 L542.50,65.09 L542.75,65.13 L543.00,65.41 L543.25,65.91 L543.50,66.58 L543.75,67.37 L544.00,68.25 L544.25,69.19 L544.50,70.16 L544.75,71.14 L545.00,72.11 L545.25,73.05 L545.50,73.93 L545.75,74.76 L546.00,75.56 L546.25,76.33 L546.50,77.08 L546.75,77.84 L547.00,78.61 L547.25,79.41 L547.50,80.23 L547.75,81.08 L548.00,81.96 L548.25,82.89 L548.50,83.86 L548.75,84.89 L549.00,85.95 L549.25,87.04 L549.50,88.11 L549.75,89.13 L550.00,90.08 L550.25,90.94 L550.50,91.73 L550.75,92.46 L551.00,93.15 L551.25,93.84 L551.50,94.56 L551.75,95.33 L552.00,96.18 L552.25,97.14 L552.50,98.22 L552.75,99.43 L553.00,100.76 L553.25,102.21 L553.50,103.74 L553.75,105.34 L554.00,106.97 L554.25,108.62 L554.50,110.29 L554.75,111.97 L555.00,113.70 L555.25,115.51 L555.50,117.48 L555.75,119.68 L556.00,122.23 L556.25,125.22 L556.50,128.72 L556.75,132.69 L557.00,136.98 L557.25,141.38 L557.50,145.68 L557.75,149.73 L558.00,153.48 L558.25,156.91 L558.50,160.02 L558.75,162.82 L559.00,165.33 L559.25,167.57 L559.50,169.60 L559.75,171.45 L560.00,173.14 L560.25,174.70 L560.50,176.14 L560.75,177.47 L561.00,178.68 L561.25,179.80 L561.50,180.82 L561.75,181.77 L562.00,182.66 L562.25,183.50 L562.50,184.29 L562.75,185.04 L563.00,185.74 L563.25,186.41 L563.50,187.04 L563.75,187.62 L564.00,188.16 L564.25,188.66 L564.50,189.12 L564.75,189.54 L565.00,189.93 L565.25,190.28 L565.50,190.61 L565.75,190.93 L566.00,191.22 L566.25,191.50 L566.50,191.77 L566.75,192.02 L567.00,192.27 L567.25,192.50 L567.50,192.72 L567.75,192.93 L568.00,193.14 L568.25,193.33 L568.50,193.52 L568.75,193.69 L569.00,193.87 L569.25,194.03 L569.50,194.19 L569.75,194.34 L570.00,194.49 L570.25,194.63 L570.50,194.77 L570.75,194.91 L571.00,195.04 L571.25,195.18 L571.50,195.30 L571.75,195.43 L572.00,195.55 L572.25,195.66 L572.50,195.78 L572.75,195.89 L573.00,196.00 L573.25,196.11 L573.50,196.21 L573.75,196.31 L574.00,196.41 L574.25,196.51 L574.50,196.60 L574.75,196.69 L575.00,196.78 L575.25,196.86 L575.50,196.94 L575.75,197.03 L576.00,197.10 L576.25,197.18 L576.50,197.25 L576.75,197.33 L577.00,197.40 L577.25,197.46 L577.50,197.53 L577.75,197.60 L578.00,197.66 L578.25,197.73 L578.50,197.79 L578.75,197.85 L579.00,197.91 L579.25,197.97 L579.50,198.03 L579.75,198.09 L580.00,198.14 L580.25,198.20 L580.50,198.25 L580.75,198.31 L581.00,198.36 L581.25,198.41 L581.50,198.46 L581.75,198.51 L582.00,198.56 L582.25,198.60 L582.50,198.65 L582.75,198.70 L583.00,198.74 L583.25,198.78 L583.50,198.83 L583.75,198.87 L584.00,198.91 L584.25,198.95 L584.50,198.99 L584.75,199.02 L585.00,199.06 L585.25,199.10 L585.50,199.13 L585.75,199.16 L586.00,199.20 L586.25,199.23 L586.50,199.26 L586.75,199.29 L587.00,199.33 L587.25,199.36 L587.50,199.39 L587.75,199.41 L588.00,199.44 L588.25,199.47 L588.50,199.50 L588.75,199.53 L589.00,199.55 L589.25,199.58 L589.50,199.60 L589.75,199.62 L590.00,199.65 L590.25,199.67 L590.50,199.69" fill="none" stroke="#e41a1c" stroke-width="1.3" stroke-linejoin="round"/>
<path d="M518.00,199.69 L518.25,199.65 L518.50,199.60 L518.75,199.53 L519.00,199.47 L519.25,199.39 L519.50,199.31 L519.75,199.22 L520.00,199.12 L520.25,199.02 L520.50,198.91 L520.75,198.80 L521.00,198.69 L521.25,198.57 L521.50,198.44 L521.75,198.31 L522.00,198.17 L522.25,198.02 L522.50,197.85 L522.75,197.67 L523.00,197.46 L523.25,197.24 L523.50,197.00 L523.75,196.73 L524.00,196.45 L524.25,196.14 L524.50,195.81 L524.75,195.47 L525.00,195.10 L525.25,194.72 L525.50,194.30 L525.75,193.86 L526.00,193.38 L526.25,192.86 L526.50,192.28 L526.75,191.63 L527.00,190.92 L527.25,190.14 L527.50,189.29 L527.75,188.37 L528.00,187.39 L528.25,186.33 L528.50,185.20 L528.75,183.97 L529.00,182.62 L529.25,181.12 L529.50,179.46 L529.75,177.63 L530.00,175.65 L530.25,173.55 L530.50,171.36 L530.75,169.09 L531.00,166.77 L531.25,164.41 L531.50,162.00 L531.75,159.53 L532.00,157.03 L532.25,154.51 L532.50,151.99 L532.75,149.51 L533.00,147.08 L533.25,144.71 L533.50,142.40 L533.75,140.17 L534.00,137.99 L534.25,135.90 L534.50,133.89 L534.75,131.97 L535.00,130.15 L535.25,128.43 L535.50,126.79 L535.75,125.24 L536.00,123.76 L536.25,122.34 L536.50,120.98 L536.75,119.67 L537.00,118.41 L537.25,117.18 L537.50,115.99 L537.75,114.83 L538.00,113.70 L538.25,112.61 L538.50,111.56 L538.75,110.55 L539.00,109.59 L539.25,108.68 L539.50,107.81 L539.75,106.98 L540.00,106.19 L540.25,105.43 L540.50,104.71 L540.75,104.03 L541.00,103.41 L541.25,102.86 L541.50,102.38 L541.75,101.97 L542.00,101.63 L542.25,101.35 L542.50,101.11 L542.75,100.90 L543.00,100.72 L543.25,100.57 L543.50,100.45 L543.75,100.36 L544.00,100.32 L544.25,100.31 L544.50,100.34 L544.75,100.41 L545.00,100.51 L545.25,100.65 L545.50,100.81 L545.75,100.99 L546.00,101.19 L546.25,101.41 L546.50,101.65 L546.75,101.92 L547.00,102.22 L547.25,102.55 L547.50,102.91 L547.75,103.31 L548.00,103.74 L548.25,104.21 L548.50,104.73 L548.75,105.30 L549.00,105.92 L549.25,106.59 L549.50,107.31 L549.75,108.06 L550.00,108.86 L550.25,109.68 L550.50,110.53 L550.75,111.39 L551.00,112.27 L551.25,113.17 L551.50,114.08 L551.75,115.03 L552.00,115.99 L552.25,116.99 L552.50,118.01 L552.75,119.06 L553.00,120.13 L553.25,121.21 L553.50,122.31 L553.75,123.43 L554.00,124.57 L554.25,125.74 L554.50,126.95 L554.75,128.20 L555.00,129.52 L555.25,130.92 L555.50,132.42 L555.75,134.01 L556.00,135.69 L556.25,137.42 L556.50,139.14 L556.75,140.82 L557.00,142.38 L557.25,143.81 L557.50,145.11 L557.75,146.27 L558.00,147.32 L558.25,148.29 L558.50,149.20 L558.75,150.05 L559.00,150.86 L559.25,151.64 L559.50,152.38 L559.75,153.10 L560.00,153.80 L560.25,154.48 L560.50,155.15 L560.75,155.81 L561.00,156.47 L561.25,157.14 L561.50,157.81 L561.75,158.49 L562.00,159.18 L562.25,159.89 L562.50,160.62 L562.75,161.35 L563.00,162.10 L563.25,162.85 L563.50,163.60 L563.75,164.36 L564.00,165.11 L564.25,165.87 L564.50,166.61 L564.75,167.35 L565.00,168.08 L565.25,168.79 L565.50,169.49 L565.75,170.18 L566.00,170.85 L566.25,171.49 L566.50,172.11 L566.75,172.71 L567.00,173.29 L567.25,173.84 L567.50,174.37 L567.75,174.88 L568.00,175.38 L568.25,175.86 L568.50,176.33 L568.75,176.79 L569.00,177.24 L569.25,177.68 L569.50,178.10 L569.75,178.52 L570.00,178.93 L570.25,179.33 L570.50,179.72 L570.75,180.11 L571.00,180.49 L571.25,180.86 L571.50,181.22 L571.75,181.58 L572.00,181.93 L572.25,182.28 L572.50,182.63 L572.75,182.97 L573.00,183.30 L573.25,183.64 L573.50,183.96 L573.75,184.29 L574.00,184.61 L574.25,184.92 L574.50,185.23 L574.75,185.54 L575.00,185.84 L575.25,186.13 L575.50,186.42 L575.75,186.71 L576.00,186.98 L576.25,187.26 L576.50,187.52 L576.75,187.78 L577.00,188.04 L577.25,188.28 L577.50,188.52 L577.75,188.76 L578.00,188.99 L578.25,189.21 L578.50,189.43 L578.75,189.65 L579.00,189.86 L579.25,190.07 L579.50,190.28 L579.75,190.49 L580.00,190.69 L580.25,190.89 L580.50,191.08 L580.75,191.27 L581.00,191.46 L581.25,191.65 L581.50,191.83 L581.75,192.01 L582.00,192.18 L582.25,192.36 L582.50,192.52 L582.75,192.69 L583.00,192.85 L583.25,193.00 L583.50,193.16 L583.75,193.31 L584.00,193.45 L584.25,193.59 L584.50,193.73 L584.75,193.86 L585.00,193.99 L585.25,194.12 L585.50,194.25 L585.75,194.37 L586.00,194.49 L586.25,194.61 L586.50,194.73 L586.75,194.84 L587.00,194.96 L587.25,195.07 L587.50,195.18 L587.75,195.29 L588.00,195.40 L588.25,195.51 L588.50,195.62 L588.75,195.72 L589.00,195.82 L589.25,195.92 L589.50,196.02 L589.75,196.12 L590.00,196.22 L590.25,196.31 L590.50,196.41 L590.75,196.50 L591.00,196.59 L591.25,196.68 L591.50,196.76 L591.75,196.85 L592.00,196.93 L592.25,197.01 L592.50,197.09 L592.75,197.17 L593.00,197.25 L593.25,197.32 L593.50,197.39 L593.75,197.46 L594.00,197.53 L594.25,197.60 L594.50,197.67 L594.75,197.73 L595.00,197.80 L595.25,197.86 L595.50,197.92 L595.75,197.98 L596.00,198.04 L596.25,198.10 L596.50,198.16 L596.75,198.22 L597.00,198.28 L597.25,198.34 L597.50,198.40 L597.75,198.45 L598.00,198.51 L598.25,198.57 L598.50,198.62 L598.75,198.67 L599.00,198.73 L599.25,198.78 L599.50,198.83 L599.75,198.88 L600.00,198.93 L600.25,198.98 L600.50,199.03 L600.75,199.08 L601.00,199.12 L601.25,199.17 L601.50,199.21 L601.75,199.26 L602.00,199.30 L602.25,199.34 L602.50,199.38 L602.75,199.42 L603.00,199.46 L603.25,199.49 L603.50,199.53 L603.75,199.56 L604.00,199.59 L604.25,199.62 L604.50,199.65 L604.75,199.68 L605.00,199.71 L605.0,199.8 L518.0,199.8 Z" fill="#66c2a5" fill-opacity="0.28" stroke="none"/>
<path d="M518.00,199.69 L518.25,199.65 L518.50,199.60 L518.75,199.53 L519.00,199.47 L519.25,199.39 L519.50,199.31 L519.75,199.22 L520.00,199.12 L520.25,199.02 L520.50,198.91 L520.75,198.80 L521.00,198.69 L521.25,198.57 L521.50,198.44 L521.75,198.31 L522.00,198.17 L522.25,198.02 L522.50,197.85 L522.75,197.67 L523.00,197.46 L523.25,197.24 L523.50,197.00 L523.75,196.73 L524.00,196.45 L524.25,196.14 L524.50,195.81 L524.75,195.47 L525.00,195.10 L525.25,194.72 L525.50,194.30 L525.75,193.86 L526.00,193.38 L526.25,192.86 L526.50,192.28 L526.75,191.63 L527.00,190.92 L527.25,190.14 L527.50,189.29 L527.75,188.37 L528.00,187.39 L528.25,186.33 L528.50,185.20 L528.75,183.97 L529.00,182.62 L529.25,181.12 L529.50,179.46 L529.75,177.63 L530.00,175.65 L530.25,173.55 L530.50,171.36 L530.75,169.09 L531.00,166.77 L531.25,164.41 L531.50,162.00 L531.75,159.53 L532.00,157.03 L532.25,154.51 L532.50,151.99 L532.75,149.51 L533.00,147.08 L533.25,144.71 L533.50,142.40 L533.75,140.17 L534.00,137.99 L534.25,135.90 L534.50,133.89 L534.75,131.97 L535.00,130.15 L535.25,128.43 L535.50,126.79 L535.75,125.24 L536.00,123.76 L536.25,122.34 L536.50,120.98 L536.75,119.67 L537.00,118.41 L537.25,117.18 L537.50,115.99 L537.75,114.83 L538.00,113.70 L538.25,112.61 L538.50,111.56 L538.75,110.55 L539.00,109.59 L539.25,108.68 L539.50,107.81 L539.75,106.98 L540.00,106.19 L540.25,105.43 L540.50,104.71 L540.75,104.03 L541.00,103.41 L541.25,102.86 L541.50,102.38 L541.75,101.97 L542.00,101.63 L542.25,101.35 L542.50,101.11 L542.75,100.90 L543.00,100.72 L543.25,100.57 L543.50,100.45 L543.75,100.36 L544.00,100.32 L544.25,100.31 L544.50,100.34 L544.75,100.41 L545.00,100.51 L545.25,100.65 L545.50,100.81 L545.75,100.99 L546.00,101.19 L546.25,101.41 L546.50,101.65 L546.75,101.92 L547.00,102.22 L547.25,102.55 L547.50,102.91 L547.75,103.31 L548.00,103.74 L548.25,104.21 L548.50,104.73 L548.75,105.30 L549.00,105.92 L549.25,106.59 L549.50,107.31 L549.75,108.06 L550.00,108.86 L550.25,109.68 L550.50,110.53 L550.75,111.39 L551.00,112.27 L551.25,113.17 L551.50,114.08 L551.75,115.03 L552.00,115.99 L552.25,116.99 L552.50,118.01 L552.75,119.06 L553.00,120.13 L553.25,121.21 L553.50,122.31 L553.75,123.43 L554.00,124.57 L554.25,125.74 L554.50,126.95 L554.75,128.20 L555.00,129.52 L555.25,130.92 L555.50,132.42 L555.75,134.01 L556.00,135.69 L556.25,137.42 L556.50,139.14 L556.75,140.82 L557.00,142.38 L557.25,143.81 L557.50,145.11 L557.75,146.27 L558.00,147.32 L558.25,148.29 L558.50,149.20 L558.75,150.05 L559.00,150.86 L559.25,151.64 L559.50,152.38 L559.75,153.10 L560.00,153.80 L560.25,154.48 L560.50,155.15 L560.75,155.81 L561.00,156.47 L561.25,157.14 L561.50,157.81 L561.75,158.49 L562.00,159.18 L562.25,159.89 L562.50,160.62 L562.75,161.35 L563.00,162.10 L563.25,162.85 L563.50,163.60 L563.75,164.36 L564.00,165.11 L564.25,165.87 L564.50,166.61 L564.75,167.35 L565.00,168.08 L565.25,168.79 L565.50,169.49 L565.75,170.18 L566.00,170.85 L566.25,171.49 L566.50,172.11 L566.75,172.71 L567.00,173.29 L567.25,173.84 L567.50,174.37 L567.75,174.88 L568.00,175.38 L568.25,175.86 L568.50,176.33 L568.75,176.79 L569.00,177.24 L569.25,177.68 L569.50,178.10 L569.75,178.52 L570.00,178.93 L570.25,179.33 L570.50,179.72 L570.75,180.11 L571.00,180.49 L571.25,180.86 L571.50,181.22 L571.75,181.58 L572.00,181.93 L572.25,182.28 L572.50,182.63 L572.75,182.97 L573.00,183.30 L573.25,183.64 L573.50,183.96 L573.75,184.29 L574.00,184.61 L574.25,184.92 L574.50,185.23 L574.75,185.54 L575.00,185.84 L575.25,186.13 L575.50,186.42 L575.75,186.71 L576.00,186.98 L576.25,187.26 L576.50,187.52 L576.75,187.78 L577.00,188.04 L577.25,188.28 L577.50,188.52 L577.75,188.76 L578.00,188.99 L578.25,189.21 L578.50,189.43 L578.75,189.65 L579.00,189.86 L579.25,190.07 L579.50,190.28 L579.75,190.49 L580.00,190.69 L580.25,190.89 L580.50,191.08 L580.75,191.27 L581.00,191.46 L581.25,191.65 L581.50,191.83 L581.75,192.01 L582.00,192.18 L582.25,192.36 L582.50,192.52 L582.75,192.69 L583.00,192.85 L583.25,193.00 L583.50,193.16 L583.75,193.31 L584.00,193.45 L584.25,193.59 L584.50,193.73 L584.75,193.86 L585.00,193.99 L585.25,194.12 L585.50,194.25 L585.75,194.37 L586.00,194.49 L586.25,194.61 L586.50,194.73 L586.75,194.84 L587.00,194.96 L587.25,195.07 L587.50,195.18 L587.75,195.29 L588.00,195.40 L588.25,195.51 L588.50,195.62 L588.75,195.72 L589.00,195.82 L589.25,195.92 L589.50,196.02 L589.75,196.12 L590.00,196.22 L590.25,196.31 L590.50,196.41 L590.75,196.50 L591.00,196.59 L591.25,196.68 L591.50,196.76 L591.75,196.85 L592.00,196.93 L592.25,197.01 L592.50,197.09 L592.75,197.17 L593.00,197.25 L593.25,197.32 L593.50,197.39 L593.75,197.46 L594.00,197.53 L594.25,197.60 L594.50,197.67 L594.75,197.73 L595.00,197.80 L595.25,197.86 L595.50,197.92 L595.75,197.98 L596.00,198.04 L596.25,198.10 L596.50,198.16 L596.75,198.22 L597.00,198.28 L597.25,198.34 L597.50,198.40 L597.75,198.45 L598.00,198.51 L598.25,198.57 L598.50,198.62 L598.75,198.67 L599.00,198.73 L599.25,198.78 L599.50,198.83 L599.75,198.88 L600.00,198.93 L600.25,198.98 L600.50,199.03 L600.75,199.08 L601.00,199.12 L601.25,199.17 L601.50,199.21 L601.75,199.26 L602.00,199.30 L602.25,199.34 L602.50,199.38 L602.75,199.42 L603.00,199.46 L603.25,199.49 L603.50,199.53 L603.75,199.56 L604.00,199.59 L604.25,199.62 L604.50,199.65 L604.75,199.68 L605.00,199.71" fill="none" stroke="#66c2a5" stroke-width="1.3" stroke-linejoin="round"/>
<path d="M486.25,199.69 L486.50,199.65 L486.75,199.60 L487.00,199.54 L487.25,199.47 L487.50,199.39 L487.75,199.31 L488.00,199.22 L488.25,199.13 L488.50,199.04 L488.75,198.94 L489.00,198.83 L489.25,198.73 L489.50,198.62 L489.75,198.50 L490.00,198.38 L490.25,198.25 L490.50,198.12 L490.75,197.97 L491.00,197.81 L491.25,197.64 L491.50,197.46 L491.75,197.27 L492.00,197.07 L492.25,196.86 L492.50,196.64 L492.75,196.41 L493.00,196.18 L493.25,195.94 L493.50,195.69 L493.75,195.44 L494.00,195.17 L494.25,194.89 L494.50,194.60 L494.75,194.29 L495.00,193.96 L495.25,193.62 L495.50,193.27 L495.75,192.90 L496.00,192.53 L496.25,192.15 L496.50,191.76 L496.75,191.36 L497.00,190.97 L497.25,190.58 L497.50,190.18 L497.75,189.78 L498.00,189.38 L498.25,188.97 L498.50,188.56 L498.75,188.14 L499.00,187.71 L499.25,187.27 L499.50,186.85 L499.75,186.43 L500.00,186.03 L500.25,185.65 L500.50,185.29 L500.75,184.96 L501.00,184.64 L501.25,184.35 L501.50,184.07 L501.75,183.81 L502.00,183.56 L502.25,183.33 L502.50,183.13 L502.75,182.97 L503.00,182.84 L503.25,182.75 L503.50,182.71 L503.75,182.71 L504.00,182.75 L504.25,182.81 L504.50,182.91 L504.75,183.03 L505.00,183.16 L505.25,183.31 L505.50,183.48 L505.75,183.66 L506.00,183.86 L506.25,184.08 L506.50,184.33 L506.75,184.61 L507.00,184.92 L507.25,185.25 L507.50,185.59 L507.75,185.94 L508.00,186.29 L508.25,186.63 L508.50,186.96 L508.75,187.27 L509.00,187.57 L509.25,187.86 L509.50,188.14 L509.75,188.42 L510.00,188.70 L510.25,188.97 L510.50,189.24 L510.75,189.50 L511.00,189.74 L511.25,189.96 L511.50,190.17 L511.75,190.34 L512.00,190.48 L512.25,190.59 L512.50,190.67 L512.75,190.70 L513.00,190.70 L513.25,190.66 L513.50,190.59 L513.75,190.49 L514.00,190.36 L514.25,190.21 L514.50,190.03 L514.75,189.83 L515.00,189.61 L515.25,189.36 L515.50,189.09 L515.75,188.79 L516.00,188.43 L516.25,188.01 L516.50,187.50 L516.75,186.91 L517.00,186.22 L517.25,185.44 L517.50,184.59 L517.75,183.67 L518.00,182.70 L518.25,181.67 L518.50,180.61 L518.75,179.50 L519.00,178.33 L519.25,177.10 L519.50,175.79 L519.75,174.40 L520.00,172.92 L520.25,171.38 L520.50,169.78 L520.75,168.15 L521.00,166.51 L521.25,164.86 L521.50,163.24 L521.75,161.63 L522.00,160.05 L522.25,158.48 L522.50,156.93 L522.75,155.38 L523.00,153.83 L523.25,152.30 L523.50,150.79 L523.75,149.31 L524.00,147.86 L524.25,146.47 L524.50,145.13 L524.75,143.85 L525.00,142.62 L525.25,141.44 L525.50,140.30 L525.75,139.21 L526.00,138.16 L526.25,137.16 L526.50,136.21 L526.75,135.34 L527.00,134.53 L527.25,133.80 L527.50,133.13 L527.75,132.52 L528.00,131.97 L528.25,131.46 L528.50,131.02 L528.75,130.64 L529.00,130.36 L529.25,130.17 L529.50,130.09 L529.75,130.13 L530.00,130.26 L530.25,130.49 L530.50,130.80 L530.75,131.18 L531.00,131.63 L531.25,132.13 L531.50,132.71 L531.75,133.38 L532.00,134.14 L532.25,135.00 L532.50,135.97 L532.75,137.02 L533.00,138.15 L533.25,139.33 L533.50,140.55 L533.75,141.80 L534.00,143.08 L534.25,144.39 L534.50,145.75 L534.75,147.16 L535.00,148.61 L535.25,150.11 L535.50,151.64 L535.75,153.19 L536.00,154.76 L536.25,156.34 L536.50,157.90 L536.75,159.45 L537.00,160.98 L537.25,162.50 L537.50,164.00 L537.75,165.49 L538.00,166.99 L538.25,168.47 L538.50,169.94 L538.75,171.37 L539.00,172.74 L539.25,174.03 L539.50,175.22 L539.75,176.30 L540.00,177.29 L540.25,178.19 L540.50,179.02 L540.75,179.78 L541.00,180.48 L541.25,181.10 L541.50,181.62 L541.75,182.02 L542.00,182.30 L542.25,182.43 L542.50,182.44 L542.75,182.31 L543.00,182.08 L543.25,181.75 L543.50,181.34 L543.75,180.86 L544.00,180.33 L544.25,179.74 L544.50,179.10 L544.75,178.39 L545.00,177.60 L545.25,176.72 L545.50,175.74 L545.75,174.68 L546.00,173.55 L546.25,172.36 L546.50,171.12 L546.75,169.85 L547.00,168.56 L547.25,167.26 L547.50,165.94 L547.75,164.60 L548.00,163.22 L548.25,161.81 L548.50,160.36 L548.75,158.90 L549.00,157.42 L549.25,155.95 L549.50,154.50 L549.75,153.08 L550.00,151.71 L550.25,150.38 L550.50,149.10 L550.75,147.85 L551.00,146.64 L551.25,145.46 L551.50,144.31 L551.75,143.19 L552.00,142.12 L552.25,141.11 L552.50,140.17 L552.75,139.30 L553.00,138.50 L553.25,137.77 L553.50,137.11 L553.75,136.49 L554.00,135.93 L554.25,135.40 L554.50,134.94 L554.75,134.54 L555.00,134.23 L555.25,134.01 L555.50,133.90 L555.75,133.91 L556.00,134.02 L556.25,134.23 L556.50,134.53 L556.75,134.91 L557.00,135.36 L557.25,135.86 L557.50,136.41 L557.75,137.01 L558.00,137.68 L558.25,138.41 L558.50,139.23 L558.75,140.14 L559.00,141.14 L559.25,142.23 L559.50,143.38 L559.75,144.59 L560.00,145.85 L560.25,147.12 L560.50,148.42 L560.75,149.73 L561.00,151.05 L561.25,152.39 L561.50,153.77 L561.75,155.18 L562.00,156.62 L562.25,158.09 L562.50,159.59 L562.75,161.09 L563.00,162.58 L563.25,164.06 L563.50,165.51 L563.75,166.93 L564.00,168.30 L564.25,169.62 L564.50,170.91 L564.75,172.15 L565.00,173.36 L565.25,174.55 L565.50,175.72 L565.75,176.87 L566.00,177.99 L566.25,179.08 L566.50,180.13 L566.75,181.14 L567.00,182.09 L567.25,183.00 L567.50,183.86 L567.75,184.66 L568.00,185.42 L568.25,186.15 L568.50,186.85 L568.75,187.52 L569.00,188.17 L569.25,188.79 L569.50,189.37 L569.75,189.89 L570.00,190.36 L570.25,190.74 L570.50,191.06 L570.75,191.29 L571.00,191.46 L571.25,191.57 L571.50,191.65 L571.75,191.69 L572.00,191.73 L572.25,191.74 L572.50,191.74 L572.75,191.70 L573.00,191.61 L573.25,191.44 L573.50,191.19 L573.75,190.83 L574.00,190.39 L574.25,189.85 L574.50,189.25 L574.75,188.59 L575.00,187.89 L575.25,187.16 L575.50,186.38 L575.75,185.55 L576.00,184.66 L576.25,183.70 L576.50,182.68 L576.75,181.61 L577.00,180.51 L577.25,179.39 L577.50,178.27 L577.75,177.17 L578.00,176.10 L578.25,175.07 L578.50,174.08 L578.75,173.13 L579.00,172.20 L579.25,171.31 L579.50,170.46 L579.75,169.66 L580.00,168.92 L580.25,168.27 L580.50,167.69 L580.75,167.18 L581.00,166.76 L581.25,166.41 L581.50,166.14 L581.75,165.97 L582.00,165.90 L582.25,165.94 L582.50,166.09 L582.75,166.32 L583.00,166.64 L583.25,167.03 L583.50,167.49 L583.75,168.04 L584.00,168.67 L584.25,169.39 L584.50,170.20 L584.75,171.09 L585.00,172.03 L585.25,173.00 L585.50,174.00 L585.75,175.00 L586.00,176.01 L586.25,177.03 L586.50,178.07 L586.75,179.12 L587.00,180.18 L587.25,181.25 L587.50,182.31 L587.75,183.35 L588.00,184.36 L588.25,185.33 L588.50,186.23 L588.75,187.09 L589.00,187.88 L589.25,188.63 L589.50,189.35 L589.75,190.03 L590.00,190.69 L590.25,191.33 L590.50,191.94 L590.75,192.52 L591.00,193.06 L591.25,193.56 L591.50,194.01 L591.75,194.41 L592.00,194.76 L592.25,195.06 L592.50,195.31 L592.75,195.52 L593.00,195.71 L593.25,195.88 L593.50,196.04 L593.75,196.18 L594.00,196.31 L594.25,196.43 L594.50,196.54 L594.75,196.63 L595.00,196.71 L595.25,196.77 L595.50,196.82 L595.75,196.85 L596.00,196.87 L596.25,196.88 L596.50,196.88 L596.75,196.88 L597.00,196.87 L597.25,196.86 L597.50,196.84 L597.75,196.82 L598.00,196.81 L598.25,196.78 L598.50,196.76 L598.75,196.74 L599.00,196.71 L599.25,196.68 L599.50,196.65 L599.75,196.62 L600.00,196.58 L600.25,196.54 L600.50,196.49 L600.75,196.43 L601.00,196.37 L601.25,196.30 L601.50,196.22 L601.75,196.13 L602.00,196.05 L602.25,195.96 L602.50,195.87 L602.75,195.79 L603.00,195.70 L603.25,195.62 L603.50,195.55 L603.75,195.47 L604.00,195.41 L604.25,195.34 L604.50,195.28 L604.75,195.22 L605.00,195.16 L605.25,195.10 L605.50,195.05 L605.75,195.00 L606.00,194.95 L606.25,194.91 L606.50,194.88 L606.75,194.85 L607.00,194.83 L607.25,194.83 L607.50,194.84 L607.75,194.85 L608.00,194.88 L608.25,194.93 L608.50,194.98 L608.75,195.04 L609.00,195.11 L609.25,195.18 L609.50,195.26 L609.75,195.35 L610.00,195.44 L610.25,195.53 L610.50,195.62 L610.75,195.71 L611.00,195.81 L611.25,195.91 L611.50,196.02 L611.75,196.13 L612.00,196.25 L612.25,196.37 L612.50,196.50 L612.75,196.64 L613.00,196.77 L613.25,196.91 L613.50,197.04 L613.75,197.18 L614.00,197.31 L614.25,197.44 L614.50,197.56 L614.75,197.68 L615.00,197.79 L615.25,197.90 L615.50,198.00 L615.75,198.11 L616.00,198.21 L616.25,198.31 L616.50,198.40 L616.75,198.50 L617.00,198.59 L617.25,198.68 L617.50,198.77 L617.75,198.85 L618.00,198.93 L618.25,199.00 L618.50,199.07 L618.75,199.13 L619.00,199.19 L619.25,199.25 L619.50,199.30 L619.75,199.35 L620.00,199.40 L620.25,199.45 L620.50,199.49 L620.75,199.53 L621.00,199.57 L621.25,199.61 L621.50,199.65 L621.75,199.68 L622.00,199.71 L622.0,199.8 L486.2,199.8 Z" fill="#ff7f0e" fill-opacity="0.28" stroke="none"/>
<path d="M486.25,199.69 L486.50,199.65 L486.75,199.60 L487.00,199.54 L487.25,199.47 L487.50,199.39 L487.75,199.31 L488.00,199.22 L488.25,199.13 L488.50,199.04 L488.75,198.94 L489.00,198.83 L489.25,198.73 L489.50,198.62 L489.75,198.50 L490.00,198.38 L490.25,198.25 L490.50,198.12 L490.75,197.97 L491.00,197.81 L491.25,197.64 L491.50,197.46 L491.75,197.27 L492.00,197.07 L492.25,196.86 L492.50,196.64 L492.75,196.41 L493.00,196.18 L493.25,195.94 L493.50,195.69 L493.75,195.44 L494.00,195.17 L494.25,194.89 L494.50,194.60 L494.75,194.29 L495.00,193.96 L495.25,193.62 L495.50,193.27 L495.75,192.90 L496.00,192.53 L496.25,192.15 L496.50,191.76 L496.75,191.36 L497.00,190.97 L497.25,190.58 L497.50,190.18 L497.75,189.78 L498.00,189.38 L498.25,188.97 L498.50,188.56 L498.75,188.14 L499.00,187.71 L499.25,187.27 L499.50,186.85 L499.75,186.43 L500.00,186.03 L500.25,185.65 L500.50,185.29 L500.75,184.96 L501.00,184.64 L501.25,184.35 L501.50,184.07 L501.75,183.81 L502.00,183.56 L502.25,183.33 L502.50,183.13 L502.75,182.97 L503.00,182.84 L503.25,182.75 L503.50,182.71 L503.75,182.71 L504.00,182.75 L504.25,182.81 L504.50,182.91 L504.75,183.03 L505.00,183.16 L505.25,183.31 L505.50,183.48 L505.75,183.66 L506.00,183.86 L506.25,184.08 L506.50,184.33 L506.75,184.61 L507.00,184.92 L507.25,185.25 L507.50,185.59 L507.75,185.94 L508.00,186.29 L508.25,186.63 L508.50,186.96 L508.75,187.27 L509.00,187.57 L509.25,187.86 L509.50,188.14 L509.75,188.42 L510.00,188.70 L510.25,188.97 L510.50,189.24 L510.75,189.50 L511.00,189.74 L511.25,189.96 L511.50,190.17 L511.75,190.34 L512.00,190.48 L512.25,190.59 L512.50,190.67 L512.75,190.70 L513.00,190.70 L513.25,190.66 L513.50,190.59 L513.75,190.49 L514.00,190.36 L514.25,190.21 L514.50,190.03 L514.75,189.83 L515.00,189.61 L515.25,189.36 L515.50,189.09 L515.75,188.79 L516.00,188.43 L516.25,188.01 L516.50,187.50 L516.75,186.91 L517.00,186.22 L517.25,185.44 L517.50,184.59 L517.75,183.67 L518.00,182.70 L518.25,181.67 L518.50,180.61 L518.75,179.50 L519.00,178.33 L519.25,177.10 L519.50,175.79 L519.75,174.40 L520.00,172.92 L520.25,171.38 L520.50,169.78 L520.75,168.15 L521.00,166.51 L521.25,164.86 L521.50,163.24 L521.75,161.63 L522.00,160.05 L522.25,158.48 L522.50,156.93 L522.75,155.38 L523.00,153.83 L523.25,152.30 L523.50,150.79 L523.75,149.31 L524.00,147.86 L524.25,146.47 L524.50,145.13 L524.75,143.85 L525.00,142.62 L525.25,141.44 L525.50,140.30 L525.75,139.21 L526.00,138.16 L526.25,137.16 L526.50,136.21 L526.75,135.34 L527.00,134.53 L527.25,133.80 L527.50,133.13 L527.75,132.52 L528.00,131.97 L528.25,131.46 L528.50,131.02 L528.75,130.64 L529.00,130.36 L529.25,130.17 L529.50,130.09 L529.75,130.13 L530.00,130.26 L530.25,130.49 L530.50,130.80 L530.75,131.18 L531.00,131.63 L531.25,132.13 L531.50,132.71 L531.75,133.38 L532.00,134.14 L532.25,135.00 L532.50,135.97 L532.75,137.02 L533.00,138.15 L533.25,139.33 L533.50,140.55 L533.75,141.80 L534.00,143.08 L534.25,144.39 L534.50,145.75 L534.75,147.16 L535.00,148.61 L535.25,150.11 L535.50,151.64 L535.75,153.19 L536.00,154.76 L536.25,156.34 L536.50,157.90 L536.75,159.45 L537.00,160.98 L537.25,162.50 L537.50,164.00 L537.75,165.49 L538.00,166.99 L538.25,168.47 L538.50,169.94 L538.75,171.37 L539.00,172.74 L539.25,174.03 L539.50,175.22 L539.75,176.30 L540.00,177.29 L540.25,178.19 L540.50,179.02 L540.75,179.78 L541.00,180.48 L541.25,181.10 L541.50,181.62 L541.75,182.02 L542.00,182.30 L542.25,182.43 L542.50,182.44 L542.75,182.31 L543.00,182.08 L543.25,181.75 L543.50,181.34 L543.75,180.86 L544.00,180.33 L544.25,179.74 L544.50,179.10 L544.75,178.39 L545.00,177.60 L545.25,176.72 L545.50,175.74 L545.75,174.68 L546.00,173.55 L546.25,172.36 L546.50,171.12 L546.75,169.85 L547.00,168.56 L547.25,167.26 L547.50,165.94 L547.75,164.60 L548.00,163.22 L548.25,161.81 L548.50,160.36 L548.75,158.90 L549.00,157.42 L549.25,155.95 L549.50,154.50 L549.75,153.08 L550.00,151.71 L550.25,150.38 L550.50,149.10 L550.75,147.85 L551.00,146.64 L551.25,145.46 L551.50,144.31 L551.75,143.19 L552.00,142.12 L552.25,141.11 L552.50,140.17 L552.75,139.30 L553.00,138.50 L553.25,137.77 L553.50,137.11 L553.75,136.49 L554.00,135.93 L554.25,135.40 L554.50,134.94 L554.75,134.54 L555.00,134.23 L555.25,134.01 L555.50,133.90 L555.75,133.91 L556.00,134.02 L556.25,134.23 L556.50,134.53 L556.75,134.91 L557.00,135.36 L557.25,135.86 L557.50,136.41 L557.75,137.01 L558.00,137.68 L558.25,138.41 L558.50,139.23 L558.75,140.14 L559.00,141.14 L559.25,142.23 L559.50,143.38 L559.75,144.59 L560.00,145.85 L560.25,147.12 L560.50,148.42 L560.75,149.73 L561.00,151.05 L561.25,152.39 L561.50,153.77 L561.75,155.18 L562.00,156.62 L562.25,158.09 L562.50,159.59 L562.75,161.09 L563.00,162.58 L563.25,164.06 L563.50,165.51 L563.75,166.93 L564.00,168.30 L564.25,169.62 L564.50,170.91 L564.75,172.15 L565.00,173.36 L565.25,174.55 L565.50,175.72 L565.75,176.87 L566.00,177.99 L566.25,179.08 L566.50,180.13 L566.75,181.14 L567.00,182.09 L567.25,183.00 L567.50,183.86 L567.75,184.66 L568.00,185.42 L568.25,186.15 L568.50,186.85 L568.75,187.52 L569.00,188.17 L569.25,188.79 L569.50,189.37 L569.75,189.89 L570.00,190.36 L570.25,190.74 L570.50,191.06 L570.75,191.29 L571.00,191.46 L571.25,191.57 L571.50,191.65 L571.75,191.69 L572.00,191.73 L572.25,191.74 L572.50,191.74 L572.75,191.70 L573.00,191.61 L573.25,191.44 L573.50,191.19 L573.75,190.83 L574.00,190.39 L574.25,189.85 L574.50,189.25 L574.75,188.59 L575.00,187.89 L575.25,187.16 L575.50,186.38 L575.75,185.55 L576.00,184.66 L576.25,183.70 L576.50,182.68 L576.75,181.61 L577.00,180.51 L577.25,179.39 L577.50,178.27 L577.75,177.17 L578.00,176.10 L578.25,175.07 L578.50,174.08 L578.75,173.13 L579.00,172.20 L579.25,171.31 L579.50,170.46 L579.75,169.66 L580.00,168.92 L580.25,168.27 L580.50,167.69 L580.75,167.18 L581.00,166.76 L581.25,166.41 L581.50,166.14 L581.75,165.97 L582.00,165.90 L582.25,165.94 L582.50,166.09 L582.75,166.32 L583.00,166.64 L583.25,167.03 L583.50,167.49 L583.75,168.04 L584.00,168.67 L584.25,169.39 L584.50,170.20 L584.75,171.09 L585.00,172.03 L585.25,173.00 L585.50,174.00 L585.75,175.00 L586.00,176.01 L586.25,177.03 L586.50,178.07 L586.75,179.12 L587.00,180.18 L587.25,181.25 L587.50,182.31 L587.75,183.35 L588.00,184.36 L588.25,185.33 L588.50,186.23 L588.75,187.09 L589.00,187.88 L589.25,188.63 L589.50,189.35 L589.75,190.03 L590.00,190.69 L590.25,191.33 L590.50,191.94 L590.75,192.52 L591.00,193.06 L591.25,193.56 L591.50,194.01 L591.75,194.41 L592.00,194.76 L592.25,195.06 L592.50,195.31 L592.75,195.52 L593.00,195.71 L593.25,195.88 L593.50,196.04 L593.75,196.18 L594.00,196.31 L594.25,196.43 L594.50,196.54 L594.75,196.63 L595.00,196.71 L595.25,196.77 L595.50,196.82 L595.75,196.85 L596.00,196.87 L596.25,196.88 L596.50,196.88 L596.75,196.88 L597.00,196.87 L597.25,196.86 L597.50,196.84 L597.75,196.82 L598.00,196.81 L598.25,196.78 L598.50,196.76 L598.75,196.74 L599.00,196.71 L599.25,196.68 L599.50,196.65 L599.75,196.62 L600.00,196.58 L600.25,196.54 L600.50,196.49 L600.75,196.43 L601.00,196.37 L601.25,196.30 L601.50,196.22 L601.75,196.13 L602.00,196.05 L602.25,195.96 L602.50,195.87 L602.75,195.79 L603.00,195.70 L603.25,195.62 L603.50,195.55 L603.75,195.47 L604.00,195.41 L604.25,195.34 L604.50,195.28 L604.75,195.22 L605.00,195.16 L605.25,195.10 L605.50,195.05 L605.75,195.00 L606.00,194.95 L606.25,194.91 L606.50,194.88 L606.75,194.85 L607.00,194.83 L607.25,194.83 L607.50,194.84 L607.75,194.85 L608.00,194.88 L608.25,194.93 L608.50,194.98 L608.75,195.04 L609.00,195.11 L609.25,195.18 L609.50,195.26 L609.75,195.35 L610.00,195.44 L610.25,195.53 L610.50,195.62 L610.75,195.71 L611.00,195.81 L611.25,195.91 L611.50,196.02 L611.75,196.13 L612.00,196.25 L612.25,196.37 L612.50,196.50 L612.75,196.64 L613.00,196.77 L613.25,196.91 L613.50,197.04 L613.75,197.18 L614.00,197.31 L614.25,197.44 L614.50,197.56 L614.75,197.68 L615.00,197.79 L615.25,197.90 L615.50,198.00 L615.75,198.11 L616.00,198.21 L616.25,198.31 L616.50,198.40 L616.75,198.50 L617.00,198.59 L617.25,198.68 L617.50,198.77 L617.75,198.85 L618.00,198.93 L618.25,199.00 L618.50,199.07 L618.75,199.13 L619.00,199.19 L619.25,199.25 L619.50,199.30 L619.75,199.35 L620.00,199.40 L620.25,199.45 L620.50,199.49 L620.75,199.53 L621.00,199.57 L621.25,199.61 L621.50,199.65 L621.75,199.68 L622.00,199.71" fill="none" stroke="#ff7f0e" stroke-width="1.3" stroke-linejoin="round"/>
</g>
<rect x="447.7" y="31.8" width="226.50000000000006" height="168.0" fill="none" stroke="#000" stroke-width="1.3"/>
<path d="M475.8,199.8 L475.8,205.0" stroke="#000" stroke-width="1.1"/>
<text x="475.8" y="217.4" text-anchor="middle" font-family='"DejaVu Sans", "Liberation Sans", sans-serif' font-size="10.6" fill="#000">−1</text>
<path d="M547.3,199.8 L547.3,205.0" stroke="#000" stroke-width="1.1"/>
<text x="547.3" y="217.4" text-anchor="middle" font-family='"DejaVu Sans", "Liberation Sans", sans-serif' font-size="10.6" fill="#000">0</text>
<path d="M618.8,199.8 L618.8,205.0" stroke="#000" stroke-width="1.1"/>
<text x="618.8" y="217.4" text-anchor="middle" font-family='"DejaVu Sans", "Liberation Sans", sans-serif' font-size="10.6" fill="#000">1</text>
<path d="M447.7,199.8 L443.3,199.8" stroke="#000" stroke-width="1.1"/>
<text x="441.5" y="204.5" text-anchor="end" font-family='"DejaVu Sans", "Liberation Sans", sans-serif' font-size="10.6" fill="#000">0</text>
<path d="M447.7,156.2 L443.3,156.2" stroke="#000" stroke-width="1.1"/>
<text x="441.5" y="160.9" text-anchor="end" font-family='"DejaVu Sans", "Liberation Sans", sans-serif' font-size="10.6" fill="#000">1</text>
<path d="M447.7,112.7 L443.3,112.7" stroke="#000" stroke-width="1.1"/>
<text x="441.5" y="117.4" text-anchor="end" font-family='"DejaVu Sans", "Liberation Sans", sans-serif' font-size="10.6" fill="#000">2</text>
<path d="M447.7,69.2 L443.3,69.2" stroke="#000" stroke-width="1.1"/>
<text x="441.5" y="73.9" text-anchor="end" font-family='"DejaVu Sans", "Liberation Sans", sans-serif' font-size="10.6" fill="#000">3</text>
<text transform="translate(430.1,115.8) rotate(-90)" text-anchor="middle" font-family='"DejaVu Sans", "Liberation Sans", sans-serif' font-size="11.1" fill="#000">Density</text>
<rect x="605" y="36.2" width="64.6" height="94" rx="1.8" ry="1.8" fill="#fff" fill-opacity="0.8" stroke="#d0d0d0" stroke-width="0.8"/>
<rect x="607.4" y="40.80" width="18" height="6.2" fill="#1f77b4" fill-opacity="0.25" stroke="#1f77b4" stroke-width="1.1"/>
<text x="632.6" y="47.20" font-family='"DejaVu Sans", "Liberation Sans", sans-serif' font-size="9" fill="#000">MaxCut</text>
<rect x="607.4" y="53.73" width="18" height="6.2" fill="#a3add8" fill-opacity="0.25" stroke="#a3add8" stroke-width="1.1"/>
<text x="632.6" y="60.13" font-family='"DejaVu Sans", "Liberation Sans", sans-serif' font-size="9" fill="#000">PO</text>
<rect x="607.4" y="66.66" width="18" height="6.2" fill="#f08ac6" fill-opacity="0.25" stroke="#f08ac6" stroke-width="1.1"/>
<text x="632.6" y="73.06" font-family='"DejaVu Sans", "Liberation Sans", sans-serif' font-size="9" fill="#000">MIS</text>
<rect x="607.4" y="79.59" width="18" height="6.2" fill="#a6d854" fill-opacity="0.25" stroke="#a6d854" stroke-width="1.1"/>
<text x="632.6" y="85.99" font-family='"DejaVu Sans", "Liberation Sans", sans-serif' font-size="9" fill="#000">TSP</text>
<rect x="607.4" y="92.52" width="18" height="6.2" fill="#e41a1c" fill-opacity="0.25" stroke="#e41a1c" stroke-width="1.1"/>
<text x="632.6" y="98.92" font-family='"DejaVu Sans", "Liberation Sans", sans-serif' font-size="9" fill="#000">BPP</text>
<rect x="607.4" y="105.45" width="18" height="6.2" fill="#66c2a5" fill-opacity="0.25" stroke="#66c2a5" stroke-width="1.1"/>
<text x="632.6" y="111.85" font-family='"DejaVu Sans", "Liberation Sans", sans-serif' font-size="9" fill="#000">KP</text>
<rect x="607.4" y="118.38" width="18" height="6.2" fill="#ff7f0e" fill-opacity="0.25" stroke="#ff7f0e" stroke-width="1.1"/>
<text x="632.6" y="124.78" font-family='"DejaVu Sans", "Liberation Sans", sans-serif' font-size="9" fill="#000">2-SAT</text>
<text x="555.3" y="228.0" text-anchor="middle" font-family='"Liberation Serif", "DejaVu Serif", serif' font-size="14.3" fill="#111"><tspan font-style="italic">e</tspan> − ⟨<tspan font-style="italic">e</tspan>⟩</text>
<path d="M531.3,233.5 L579.8,233.5" stroke="#111" stroke-width="1"/>
<text x="554.8" y="247.8" text-anchor="middle" font-family='"Liberation Serif", "DejaVu Serif", serif' font-size="14" fill="#111">max | <tspan font-style="italic">e</tspan> |</text>
<text x="424.3" y="26.9" font-family='"Liberation Serif", "DejaVu Serif", serif' font-size="18.6" fill="#111">(c)</text>
</g>
</svg>
</body></html>
